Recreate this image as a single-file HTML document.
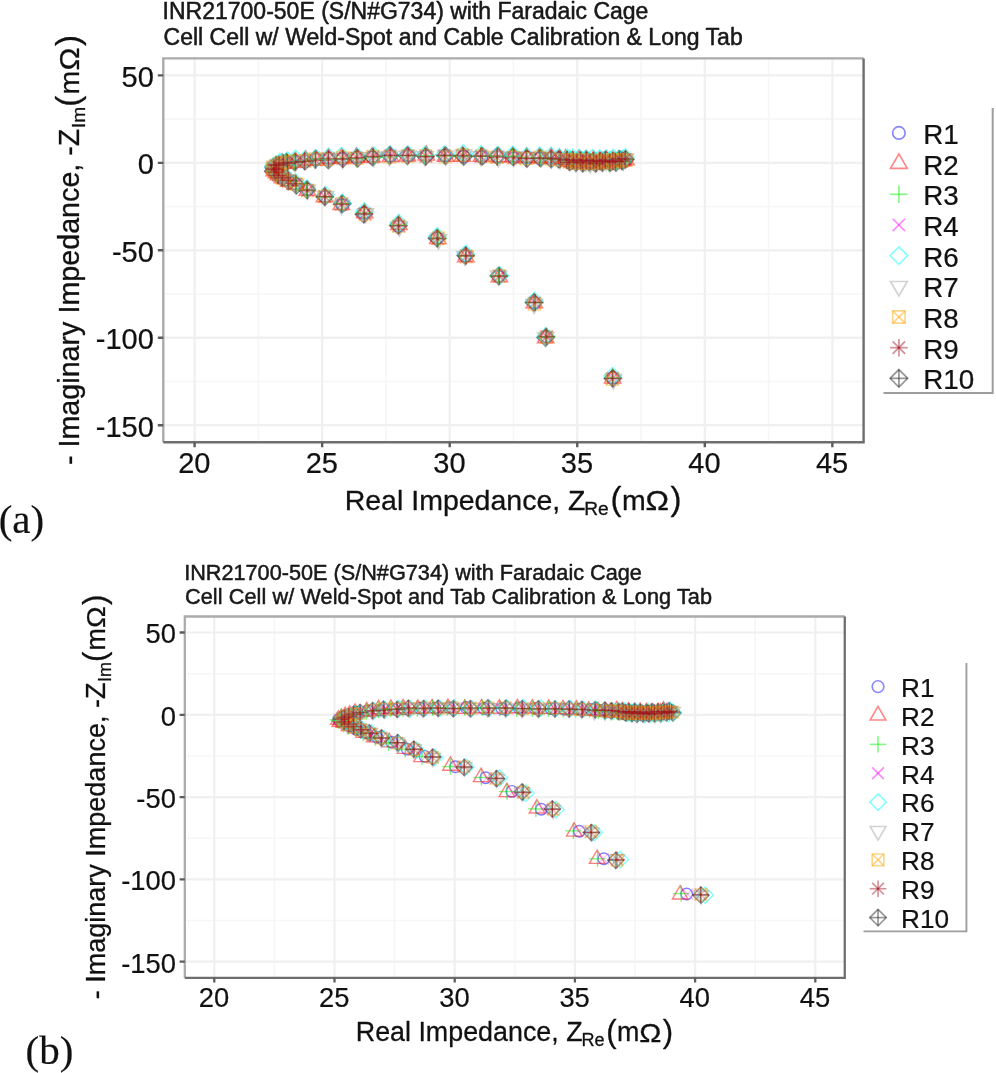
<!DOCTYPE html><html><head><meta charset="utf-8"><title>Nyquist plots</title><style>html,body{margin:0;padding:0;background:#fff;overflow:hidden}svg{display:block}text{font-family:"Liberation Sans",Arial,sans-serif;stroke:#111;stroke-width:0.4px;stroke-linejoin:round}.tk text{stroke-width:0.22px}.ax text{stroke-width:0.3px}</style></head><body>
<svg width="996" height="1073" viewBox="0 0 996 1073">
<defs><filter id="bl" x="-5%" y="-5%" width="110%" height="110%"><feGaussianBlur stdDeviation="0.6"/></filter><filter id="bl2" x="-5%" y="-5%" width="110%" height="110%"><feGaussianBlur stdDeviation="0.45"/></filter></defs>
<rect width="996" height="1073" fill="#fff"/>
<path d="M258.38 58.4V442.3M385.93 58.4V442.3M513.48 58.4V442.3M641.02 58.4V442.3M768.58 58.4V442.3M163.3 119.12H863.6M163.3 206.57H863.6M163.3 294.02H863.6M163.3 381.48H863.6" stroke="#f6f6f6" stroke-width="1.6" fill="none"/>
<path d="M194.6 58.4V442.3M322.15 58.4V442.3M449.7 58.4V442.3M577.25 58.4V442.3M704.8 58.4V442.3M832.35 58.4V442.3M163.3 75.4H863.6M163.3 162.85H863.6M163.3 250.3H863.6M163.3 337.75H863.6M163.3 425.2H863.6" stroke="#f0f0f0" stroke-width="2.3" fill="none"/>
<g filter="url(#bl)">
<g fill="none" stroke="#0000ff" stroke-opacity="0.5" stroke-width="1.45"><circle cx="612.78" cy="377.87" r="6.1"/><circle cx="546.57" cy="336.53" r="6.1"/><circle cx="534.66" cy="302.96" r="6.1"/><circle cx="498.4" cy="276.41" r="6.1"/><circle cx="465.07" cy="256.18" r="6.1"/><circle cx="437.03" cy="238.06" r="6.1"/><circle cx="398.76" cy="226.29" r="6.1"/><circle cx="364.02" cy="213.2" r="6.1"/><circle cx="342.43" cy="205.11" r="6.1"/><circle cx="325.24" cy="196.81" r="6.1"/><circle cx="307.86" cy="189.48" r="6.1"/><circle cx="296.35" cy="184.02" r="6.1"/><circle cx="287.86" cy="180.31" r="6.1"/><circle cx="282.66" cy="178.57" r="6.1"/><circle cx="278.43" cy="175.65" r="6.1"/><circle cx="276.25" cy="172.77" r="6.1"/><circle cx="274.09" cy="169.71" r="6.1"/><circle cx="272.71" cy="167.47" r="6.1"/><circle cx="276.32" cy="165.87" r="6.1"/><circle cx="278.67" cy="164.95" r="6.1"/><circle cx="282.42" cy="163.14" r="6.1"/><circle cx="287.33" cy="162.76" r="6.1"/><circle cx="294.84" cy="161.63" r="6.1"/><circle cx="304.95" cy="161.38" r="6.1"/><circle cx="316.11" cy="159.12" r="6.1"/><circle cx="328.66" cy="158.41" r="6.1"/><circle cx="342.05" cy="158.76" r="6.1"/><circle cx="356.47" cy="157.88" r="6.1"/><circle cx="372.07" cy="157.3" r="6.1"/><circle cx="390.38" cy="156.13" r="6.1"/><circle cx="408.68" cy="155.66" r="6.1"/><circle cx="426.35" cy="156.17" r="6.1"/><circle cx="444.94" cy="155.67" r="6.1"/><circle cx="463.51" cy="156.45" r="6.1"/><circle cx="481.55" cy="156.9" r="6.1"/><circle cx="497.01" cy="156.86" r="6.1"/><circle cx="513.76" cy="158.04" r="6.1"/><circle cx="527.28" cy="157.46" r="6.1"/><circle cx="539.79" cy="158.35" r="6.1"/><circle cx="549.94" cy="158.43" r="6.1"/><circle cx="558.9" cy="158.31" r="6.1"/><circle cx="565.71" cy="159.96" r="6.1"/><circle cx="569.13" cy="161.1" r="6.1"/><circle cx="572.9" cy="160.68" r="6.1"/><circle cx="575.65" cy="161.95" r="6.1"/><circle cx="579.79" cy="161.14" r="6.1"/><circle cx="583.57" cy="163.07" r="6.1"/><circle cx="585.9" cy="160.6" r="6.1"/><circle cx="589.35" cy="163.33" r="6.1"/><circle cx="593.72" cy="160.26" r="6.1"/><circle cx="595.62" cy="162.21" r="6.1"/><circle cx="599.02" cy="160.83" r="6.1"/><circle cx="602.96" cy="162.15" r="6.1"/><circle cx="605.21" cy="160.51" r="6.1"/><circle cx="609.16" cy="162.42" r="6.1"/><circle cx="613.52" cy="160.64" r="6.1"/><circle cx="616.03" cy="162.09" r="6.1"/><circle cx="619.62" cy="159.02" r="6.1"/><circle cx="623.32" cy="161.86" r="6.1"/><circle cx="626.57" cy="159.8" r="6.1"/></g>
<g fill="none" stroke="#202020" stroke-opacity="0.5" stroke-width="1.45"><path d="M612.91 369.69L621.53 378.32L612.91 386.94L604.28 378.32Z"/><path d="M604.28 378.32H621.53"/><path d="M612.91 369.69V386.94"/><path d="M545.59 328.92L554.21 337.54L545.59 346.17L536.96 337.54Z"/><path d="M536.96 337.54H554.21"/><path d="M545.59 328.92V346.17"/><path d="M533.81 293.79L542.44 302.42L533.81 311.05L525.19 302.42Z"/><path d="M525.19 302.42H542.44"/><path d="M533.81 293.79V311.05"/><path d="M498.68 267.17L507.3 275.79L498.68 284.42L490.05 275.79Z"/><path d="M490.05 275.79H507.3"/><path d="M498.68 267.17V284.42"/><path d="M465.61 246.87L474.24 255.49L465.61 264.12L456.99 255.49Z"/><path d="M456.99 255.49H474.24"/><path d="M465.61 246.87V264.12"/><path d="M436.9 229.55L445.53 238.17L436.9 246.8L428.27 238.17Z"/><path d="M428.27 238.17H445.53"/><path d="M436.9 229.55V246.8"/><path d="M398.18 216.83L406.81 225.45L398.18 234.08L389.56 225.45Z"/><path d="M389.56 225.45H406.81"/><path d="M398.18 216.83V234.08"/><path d="M363.85 205.75L372.47 214.37L363.85 223L355.22 214.37Z"/><path d="M355.22 214.37H372.47"/><path d="M363.85 205.75V223"/><path d="M342.41 195.04L351.03 203.67L342.41 212.29L333.78 203.67Z"/><path d="M333.78 203.67H351.03"/><path d="M342.41 195.04V212.29"/><path d="M324.65 188.1L333.28 196.73L324.65 205.35L316.03 196.73Z"/><path d="M316.03 196.73H333.28"/><path d="M324.65 188.1V205.35"/><path d="M306.76 180.99L315.38 189.62L306.76 198.25L298.13 189.62Z"/><path d="M298.13 189.62H315.38"/><path d="M306.76 180.99V198.25"/><path d="M296.33 176.66L304.95 185.29L296.33 193.91L287.7 185.29Z"/><path d="M287.7 185.29H304.95"/><path d="M296.33 176.66V193.91"/><path d="M288.44 172.34L297.07 180.97L288.44 189.6L279.81 180.97Z"/><path d="M279.81 180.97H297.07"/><path d="M288.44 172.34V189.6"/><path d="M282.25 168.66L290.88 177.28L282.25 185.91L273.63 177.28Z"/><path d="M273.63 177.28H290.88"/><path d="M282.25 168.66V185.91"/><path d="M278.72 166.45L287.34 175.08L278.72 183.7L270.09 175.08Z"/><path d="M270.09 175.08H287.34"/><path d="M278.72 166.45V183.7"/><path d="M276.59 163.76L285.22 172.39L276.59 181.02L267.97 172.39Z"/><path d="M267.97 172.39H285.22"/><path d="M276.59 163.76V181.02"/><path d="M273.14 162.69L281.77 171.31L273.14 179.94L264.51 171.31Z"/><path d="M264.51 171.31H281.77"/><path d="M273.14 162.69V179.94"/><path d="M273.55 158.74L282.18 167.36L273.55 175.99L264.92 167.36Z"/><path d="M264.92 167.36H282.18"/><path d="M273.55 158.74V175.99"/><path d="M276.08 156.52L284.7 165.15L276.08 173.78L267.45 165.15Z"/><path d="M267.45 165.15H284.7"/><path d="M276.08 156.52V173.78"/><path d="M279.05 157.03L287.68 165.66L279.05 174.29L270.42 165.66Z"/><path d="M270.42 165.66H287.68"/><path d="M279.05 157.03V174.29"/><path d="M283.15 155.23L291.78 163.85L283.15 172.48L274.53 163.85Z"/><path d="M274.53 163.85H291.78"/><path d="M283.15 155.23V172.48"/><path d="M286.37 153.53L295 162.16L286.37 170.79L277.74 162.16Z"/><path d="M277.74 162.16H295"/><path d="M286.37 153.53V170.79"/><path d="M294.7 153.36L303.33 161.99L294.7 170.62L286.07 161.99Z"/><path d="M286.07 161.99H303.33"/><path d="M294.7 153.36V170.62"/><path d="M304.96 152.58L313.59 161.2L304.96 169.83L296.33 161.2Z"/><path d="M296.33 161.2H313.59"/><path d="M304.96 152.58V169.83"/><path d="M315.39 150.37L324.02 159L315.39 167.63L306.77 159Z"/><path d="M306.77 159H324.02"/><path d="M315.39 150.37V167.63"/><path d="M328.36 151.35L336.99 159.97L328.36 168.6L319.73 159.97Z"/><path d="M319.73 159.97H336.99"/><path d="M328.36 151.35V168.6"/><path d="M342.83 150.22L351.46 158.85L342.83 167.48L334.21 158.85Z"/><path d="M334.21 158.85H351.46"/><path d="M342.83 150.22V167.48"/><path d="M357.67 149.71L366.3 158.33L357.67 166.96L349.05 158.33Z"/><path d="M349.05 158.33H366.3"/><path d="M357.67 149.71V166.96"/><path d="M372.41 148.41L381.03 157.03L372.41 165.66L363.78 157.03Z"/><path d="M363.78 157.03H381.03"/><path d="M372.41 148.41V165.66"/><path d="M389.64 146.53L398.27 155.15L389.64 163.78L381.01 155.15Z"/><path d="M381.01 155.15H398.27"/><path d="M389.64 146.53V163.78"/><path d="M407.15 146.98L415.78 155.6L407.15 164.23L398.52 155.6Z"/><path d="M398.52 155.6H415.78"/><path d="M407.15 146.98V164.23"/><path d="M425.57 147.72L434.19 156.35L425.57 164.97L416.94 156.35Z"/><path d="M416.94 156.35H434.19"/><path d="M425.57 147.72V164.97"/><path d="M445.62 147.03L454.25 155.66L445.62 164.28L437 155.66Z"/><path d="M437 155.66H454.25"/><path d="M445.62 147.03V164.28"/><path d="M463.69 147.9L472.31 156.53L463.69 165.16L455.06 156.53Z"/><path d="M455.06 156.53H472.31"/><path d="M463.69 147.9V165.16"/><path d="M482.42 147.73L491.05 156.36L482.42 164.98L473.79 156.36Z"/><path d="M473.79 156.36H491.05"/><path d="M482.42 147.73V164.98"/><path d="M497.3 147.38L505.92 156.01L497.3 164.64L488.67 156.01Z"/><path d="M488.67 156.01H505.92"/><path d="M497.3 147.38V164.64"/><path d="M512.95 147.99L521.58 156.62L512.95 165.24L504.33 156.62Z"/><path d="M504.33 156.62H521.58"/><path d="M512.95 147.99V165.24"/><path d="M526.92 149.94L535.55 158.57L526.92 167.2L518.3 158.57Z"/><path d="M518.3 158.57H535.55"/><path d="M526.92 149.94V167.2"/><path d="M540.61 149.39L549.24 158.01L540.61 166.64L531.99 158.01Z"/><path d="M531.99 158.01H549.24"/><path d="M540.61 149.39V166.64"/><path d="M551.08 150.41L559.7 159.04L551.08 167.67L542.45 159.04Z"/><path d="M542.45 159.04H559.7"/><path d="M551.08 150.41V167.67"/><path d="M558.75 150.66L567.38 159.29L558.75 167.92L550.13 159.29Z"/><path d="M550.13 159.29H567.38"/><path d="M558.75 150.66V167.92"/><path d="M567.24 151.36L575.86 159.98L567.24 168.61L558.61 159.98Z"/><path d="M558.61 159.98H575.86"/><path d="M567.24 151.36V168.61"/><path d="M570.25 152.89L578.88 161.51L570.25 170.14L561.62 161.51Z"/><path d="M561.62 161.51H578.88"/><path d="M570.25 152.89V170.14"/><path d="M572.52 151.9L581.15 160.53L572.52 169.16L563.89 160.53Z"/><path d="M563.89 160.53H581.15"/><path d="M572.52 151.9V169.16"/><path d="M576.1 153.96L584.73 162.58L576.1 171.21L567.47 162.58Z"/><path d="M567.47 162.58H584.73"/><path d="M576.1 153.96V171.21"/><path d="M580.55 151.63L589.18 160.26L580.55 168.89L571.92 160.26Z"/><path d="M571.92 160.26H589.18"/><path d="M580.55 151.63V168.89"/><path d="M582.82 154.59L591.45 163.22L582.82 171.85L574.2 163.22Z"/><path d="M574.2 163.22H591.45"/><path d="M582.82 154.59V171.85"/><path d="M586.7 151.53L595.33 160.16L586.7 168.78L578.08 160.16Z"/><path d="M578.08 160.16H595.33"/><path d="M586.7 151.53V168.78"/><path d="M588.93 153.39L597.56 162.01L588.93 170.64L580.3 162.01Z"/><path d="M580.3 162.01H597.56"/><path d="M588.93 153.39V170.64"/><path d="M593.63 152.82L602.26 161.44L593.63 170.07L585 161.44Z"/><path d="M585 161.44H602.26"/><path d="M593.63 152.82V170.07"/><path d="M595.56 154.66L604.19 163.28L595.56 171.91L586.94 163.28Z"/><path d="M586.94 163.28H604.19"/><path d="M595.56 154.66V171.91"/><path d="M600.36 152.52L608.99 161.14L600.36 169.77L591.74 161.14Z"/><path d="M591.74 161.14H608.99"/><path d="M600.36 152.52V169.77"/><path d="M602.53 154.04L611.16 162.67L602.53 171.29L593.9 162.67Z"/><path d="M593.9 162.67H611.16"/><path d="M602.53 154.04V171.29"/><path d="M605.44 151.16L614.06 159.78L605.44 168.41L596.81 159.78Z"/><path d="M596.81 159.78H614.06"/><path d="M605.44 151.16V168.41"/><path d="M610.25 153.94L618.87 162.57L610.25 171.19L601.62 162.57Z"/><path d="M601.62 162.57H618.87"/><path d="M610.25 153.94V171.19"/><path d="M612.75 152.46L621.37 161.08L612.75 169.71L604.12 161.08Z"/><path d="M604.12 161.08H621.37"/><path d="M612.75 152.46V169.71"/><path d="M615.88 153.92L624.51 162.54L615.88 171.17L607.25 162.54Z"/><path d="M607.25 162.54H624.51"/><path d="M615.88 153.92V171.17"/><path d="M619.89 150.68L628.51 159.3L619.89 167.93L611.26 159.3Z"/><path d="M611.26 159.3H628.51"/><path d="M619.89 150.68V167.93"/><path d="M622.15 152.35L630.78 160.98L622.15 169.61L613.53 160.98Z"/><path d="M613.53 160.98H630.78"/><path d="M622.15 152.35V169.61"/><path d="M625.43 150.79L634.06 159.42L625.43 168.05L616.81 159.42Z"/><path d="M616.81 159.42H634.06"/><path d="M625.43 150.79V168.05"/></g>
<g fill="none" stroke="#ff0000" stroke-opacity="0.5" stroke-width="1.45"><path d="M612.67 368.87L620.88 383.1L604.45 383.1Z"/><path d="M545.64 328.55L553.85 342.78L537.42 342.78Z"/><path d="M534.34 293.64L542.55 307.87L526.12 307.87Z"/><path d="M499.35 267.64L507.57 281.87L491.13 281.87Z"/><path d="M465.76 247.57L473.97 261.8L457.54 261.8Z"/><path d="M437.8 229.37L446.02 243.6L429.59 243.6Z"/><path d="M398.94 215.35L407.16 229.58L390.73 229.58Z"/><path d="M364.59 203.64L372.81 217.87L356.38 217.87Z"/><path d="M341.31 195.35L349.52 209.58L333.09 209.58Z"/><path d="M324.51 187.47L332.73 201.7L316.29 201.7Z"/><path d="M307.41 180.92L315.62 195.15L299.19 195.15Z"/><path d="M295.39 174.95L303.6 189.18L287.17 189.18Z"/><path d="M288.6 172.03L296.82 186.26L280.38 186.26Z"/><path d="M282.29 168.62L290.51 182.85L274.08 182.85Z"/><path d="M278.55 165.61L286.76 179.84L270.33 179.84Z"/><path d="M276.49 163.53L284.71 177.76L268.27 177.76Z"/><path d="M274.11 161.48L282.33 175.71L265.9 175.71Z"/><path d="M274.24 158.41L282.46 172.64L266.03 172.64Z"/><path d="M276.2 156.52L284.42 170.75L267.99 170.75Z"/><path d="M279.02 155.66L287.24 169.89L270.81 169.89Z"/><path d="M282.41 154.07L290.63 168.3L274.2 168.3Z"/><path d="M286.76 153.71L294.98 167.94L278.54 167.94Z"/><path d="M295.66 152.69L303.87 166.92L287.44 166.92Z"/><path d="M305.7 150.78L313.91 165.01L297.48 165.01Z"/><path d="M315.81 150.81L324.02 165.04L307.59 165.04Z"/><path d="M328.41 148.96L336.63 163.19L320.2 163.19Z"/><path d="M341.52 148.71L349.73 162.94L333.3 162.94Z"/><path d="M356.33 147.95L364.55 162.18L348.12 162.18Z"/><path d="M372.13 147.82L380.35 162.05L363.92 162.05Z"/><path d="M390.41 147.23L398.63 161.46L382.2 161.46Z"/><path d="M407.38 146.9L415.59 161.13L399.16 161.13Z"/><path d="M426.29 145.87L434.5 160.1L418.07 160.1Z"/><path d="M445.49 147.11L453.7 161.33L437.27 161.33Z"/><path d="M462.4 146.98L470.61 161.21L454.18 161.21Z"/><path d="M481.42 147.09L489.63 161.32L473.2 161.32Z"/><path d="M498.68 147.61L506.9 161.84L490.47 161.84Z"/><path d="M512.89 147.54L521.11 161.77L504.68 161.77Z"/><path d="M526.73 148.07L534.94 162.3L518.51 162.3Z"/><path d="M539.45 148.24L547.67 162.47L531.24 162.47Z"/><path d="M551.2 148.15L559.42 162.38L542.98 162.38Z"/><path d="M559.6 149.41L567.81 163.64L551.38 163.64Z"/><path d="M565.63 149.69L573.85 163.92L557.42 163.92Z"/><path d="M570.02 152.09L578.24 166.32L561.81 166.32Z"/><path d="M572.32 151.4L580.53 165.63L564.1 165.63Z"/><path d="M576.92 153.41L585.13 167.64L568.7 167.64Z"/><path d="M578.99 150.54L587.2 164.77L570.77 164.77Z"/><path d="M582.17 153.43L590.39 167.66L573.96 167.66Z"/><path d="M585.89 150.6L594.1 164.83L577.67 164.83Z"/><path d="M589.46 153.9L597.68 168.13L581.24 168.13Z"/><path d="M593.47 150.97L601.69 165.2L585.26 165.2Z"/><path d="M595.57 153.97L603.78 168.19L587.35 168.19Z"/><path d="M599.63 151.73L607.84 165.96L591.41 165.96Z"/><path d="M602.06 152.3L610.28 166.53L593.85 166.53Z"/><path d="M606.44 151.04L614.65 165.27L598.22 165.27Z"/><path d="M608.63 153.6L616.85 167.83L600.41 167.83Z"/><path d="M612.94 151.36L621.16 165.59L604.73 165.59Z"/><path d="M615.25 153.03L623.47 167.26L607.04 167.26Z"/><path d="M618.52 150.99L626.74 165.22L610.3 165.22Z"/><path d="M622.52 151.58L630.73 165.81L614.3 165.81Z"/><path d="M626 150.55L634.21 164.78L617.78 164.78Z"/></g>
<g fill="none" stroke="#00ee00" stroke-opacity="0.5" stroke-width="1.45"><path d="M604.06 377.83H621.31"/><path d="M612.68 369.21V386.46"/><path d="M537.72 336.83H554.98"/><path d="M546.35 328.2V345.46"/><path d="M525.27 302.59H542.52"/><path d="M533.9 293.96V311.22"/><path d="M489.76 275.86H507.02"/><path d="M498.39 267.24V284.49"/><path d="M456.93 255.95H474.19"/><path d="M465.56 247.32V264.58"/><path d="M429.64 238.42H446.89"/><path d="M438.27 229.8V247.05"/><path d="M390.27 225.12H407.53"/><path d="M398.9 216.49V233.75"/><path d="M355.8 212.83H373.05"/><path d="M364.42 204.21V221.46"/><path d="M333.12 203.43H350.38"/><path d="M341.75 194.8V212.05"/><path d="M316.89 197.09H334.15"/><path d="M325.52 188.47V205.72"/><path d="M297.81 190.25H315.07"/><path d="M306.44 181.63V198.88"/><path d="M287.86 183.69H305.11"/><path d="M296.48 175.06V192.32"/><path d="M280.45 180.88H297.7"/><path d="M289.07 172.25V189.5"/><path d="M274.36 178.6H291.62"/><path d="M282.99 169.98V187.23"/><path d="M270.18 175.51H287.43"/><path d="M278.81 166.89V184.14"/><path d="M267.71 173.87H284.96"/><path d="M276.34 165.24V182.5"/><path d="M265.09 171.1H282.34"/><path d="M273.72 162.47V179.72"/><path d="M265.25 168.24H282.5"/><path d="M273.87 159.62V176.87"/><path d="M267.2 165.73H284.46"/><path d="M275.83 157.1V174.35"/><path d="M269.57 164.13H286.82"/><path d="M278.2 155.51V172.76"/><path d="M273.1 163.93H290.35"/><path d="M281.73 155.31V172.56"/><path d="M277.73 161.79H294.99"/><path d="M286.36 153.17V170.42"/><path d="M285.93 162.11H303.18"/><path d="M294.55 153.49V170.74"/><path d="M296.94 161.01H314.19"/><path d="M305.57 152.38V169.63"/><path d="M306.68 159.04H323.93"/><path d="M315.31 150.41V167.66"/><path d="M318.8 159.03H336.05"/><path d="M327.43 150.4V167.65"/><path d="M332.96 158.2H350.21"/><path d="M341.58 149.58V166.83"/><path d="M348.05 158.73H365.3"/><path d="M356.67 150.1V167.36"/><path d="M365.12 157.08H382.38"/><path d="M373.75 148.46V165.71"/><path d="M380.81 156.84H398.07"/><path d="M389.44 148.21V165.46"/><path d="M399.03 155.74H416.28"/><path d="M407.66 147.12V164.37"/><path d="M416.48 155.79H433.73"/><path d="M425.1 147.16V164.41"/><path d="M436.13 155.75H453.38"/><path d="M444.75 147.13V164.38"/><path d="M453.74 155.66H470.99"/><path d="M462.36 147.03V164.29"/><path d="M472.08 156.18H489.34"/><path d="M480.71 147.55V164.8"/><path d="M488.43 156.32H505.69"/><path d="M497.06 147.69V164.95"/><path d="M504.05 156.29H521.3"/><path d="M512.68 147.66V164.92"/><path d="M517.72 157.37H534.97"/><path d="M526.35 148.74V166"/><path d="M531.53 158.1H548.78"/><path d="M540.15 149.48V166.73"/><path d="M542.62 158.78H559.88"/><path d="M551.25 150.16V167.41"/><path d="M551.26 159.68H568.52"/><path d="M559.89 151.06V168.31"/><path d="M557.67 159.16H574.93"/><path d="M566.3 150.54V167.79"/><path d="M562.05 160.92H579.3"/><path d="M570.67 152.29V169.55"/><path d="M564.88 160.27H582.13"/><path d="M573.5 151.64V168.89"/><path d="M566.95 162.65H584.21"/><path d="M575.58 154.02V171.27"/><path d="M571.78 160.68H589.03"/><path d="M580.41 152.05V169.3"/><path d="M574.79 162.98H592.05"/><path d="M583.42 154.35V171.61"/><path d="M577.02 160.79H594.28"/><path d="M585.65 152.17V169.42"/><path d="M580.98 163.24H598.23"/><path d="M589.61 154.62V171.87"/><path d="M584.82 161.48H602.08"/><path d="M593.45 152.85V170.11"/><path d="M587.72 163.4H604.98"/><path d="M596.35 154.78V172.03"/><path d="M591.2 161.21H608.46"/><path d="M599.83 152.58V169.83"/><path d="M593.69 161.73H610.94"/><path d="M602.31 153.11V170.36"/><path d="M596.81 160.41H614.07"/><path d="M605.44 151.78V169.03"/><path d="M600.06 162.9H617.32"/><path d="M608.69 154.27V171.53"/><path d="M604.18 160.53H621.43"/><path d="M612.81 151.9V169.16"/><path d="M607.6 162.2H624.85"/><path d="M616.23 153.57V170.83"/><path d="M610.65 158.93H627.91"/><path d="M619.28 150.3V167.56"/><path d="M614.51 161.8H631.76"/><path d="M623.14 153.17V170.43"/><path d="M617.28 159.33H634.53"/><path d="M625.91 150.7V167.96"/></g>
<g fill="none" stroke="#ff00ff" stroke-opacity="0.5" stroke-width="1.45"><path d="M607.29 371.62L619.49 383.82" stroke-opacity="0.22"/><path d="M607.29 383.82L619.49 371.62" stroke-opacity="0.22"/><path d="M540.63 330.75L552.83 342.95" stroke-opacity="0.22"/><path d="M540.63 342.95L552.83 330.75" stroke-opacity="0.22"/><path d="M527.73 296.68L539.93 308.88" stroke-opacity="0.22"/><path d="M527.73 308.88L539.93 296.68" stroke-opacity="0.22"/><path d="M493.51 269.77L505.71 281.97" stroke-opacity="0.22"/><path d="M493.51 281.97L505.71 269.77" stroke-opacity="0.22"/><path d="M460.23 251.06L472.43 263.26" stroke-opacity="0.22"/><path d="M460.23 263.26L472.43 251.06" stroke-opacity="0.22"/><path d="M431.69 232.49L443.89 244.69" stroke-opacity="0.22"/><path d="M431.69 244.69L443.89 232.49" stroke-opacity="0.22"/><path d="M392.76 219.93L404.96 232.13" stroke-opacity="0.22"/><path d="M392.76 232.13L404.96 219.93" stroke-opacity="0.22"/><path d="M359.08 207.81L371.28 220.01" stroke-opacity="0.22"/><path d="M359.08 220.01L371.28 207.81" stroke-opacity="0.22"/><path d="M336.36 197.44L348.56 209.64" stroke-opacity="0.22"/><path d="M336.36 209.64L348.56 197.44" stroke-opacity="0.22"/><path d="M318.37 190.46L330.57 202.66" stroke-opacity="0.22"/><path d="M318.37 202.66L330.57 190.46" stroke-opacity="0.22"/><path d="M301.34 183.85L313.54 196.05" stroke-opacity="0.22"/><path d="M301.34 196.05L313.54 183.85" stroke-opacity="0.22"/><path d="M289.72 177.42L301.92 189.62" stroke-opacity="0.22"/><path d="M289.72 189.62L301.92 177.42" stroke-opacity="0.22"/><path d="M281.61 174.48L293.81 186.68" stroke-opacity="0.22"/><path d="M281.61 186.68L293.81 174.48" stroke-opacity="0.22"/><path d="M277.21 172.25L289.41 184.45" stroke-opacity="0.22"/><path d="M277.21 184.45L289.41 172.25" stroke-opacity="0.22"/><path d="M273.22 169.02L285.42 181.22" stroke-opacity="0.22"/><path d="M273.22 181.22L285.42 169.02" stroke-opacity="0.22"/><path d="M269.93 166.84L282.13 179.04" stroke-opacity="0.22"/><path d="M269.93 179.04L282.13 166.84" stroke-opacity="0.22"/><path d="M267.84 163.71L280.04 175.91" stroke-opacity="0.22"/><path d="M267.84 175.91L280.04 163.71" stroke-opacity="0.22"/><path d="M268.11 161.36L280.31 173.56" stroke-opacity="0.22"/><path d="M268.11 173.56L280.31 161.36" stroke-opacity="0.22"/><path d="M270.76 160.69L282.96 172.89" stroke-opacity="0.22"/><path d="M270.76 172.89L282.96 160.69" stroke-opacity="0.22"/><path d="M272.03 158.63L284.23 170.83" stroke-opacity="0.22"/><path d="M272.03 170.83L284.23 158.63" stroke-opacity="0.22"/><path d="M276.98 158.24L289.18 170.44" stroke-opacity="0.22"/><path d="M276.98 170.44L289.18 158.24" stroke-opacity="0.22"/><path d="M280.61 155.88L292.81 168.08" stroke-opacity="0.22"/><path d="M280.61 168.08L292.81 155.88" stroke-opacity="0.22"/><path d="M288.68 156.2L300.88 168.4" stroke-opacity="0.22"/><path d="M288.68 168.4L300.88 156.2" stroke-opacity="0.22"/><path d="M298.28 154.75L310.48 166.95" stroke-opacity="0.22"/><path d="M298.28 166.95L310.48 154.75" stroke-opacity="0.22"/><path d="M308.96 153.44L321.16 165.64" stroke-opacity="0.22"/><path d="M308.96 165.64L321.16 153.44" stroke-opacity="0.22"/><path d="M322.51 152.34L334.71 164.54" stroke-opacity="0.22"/><path d="M322.51 164.54L334.71 152.34" stroke-opacity="0.22"/><path d="M336.68 152.22L348.88 164.42" stroke-opacity="0.22"/><path d="M336.68 164.42L348.88 152.22" stroke-opacity="0.22"/><path d="M351.7 152.17L363.9 164.37" stroke-opacity="0.22"/><path d="M351.7 164.37L363.9 152.17" stroke-opacity="0.22"/><path d="M366.32 151.62L378.52 163.82" stroke-opacity="0.22"/><path d="M366.32 163.82L378.52 151.62" stroke-opacity="0.22"/><path d="M383.78 149.04L395.98 161.24" stroke-opacity="0.22"/><path d="M383.78 161.24L395.98 149.04" stroke-opacity="0.22"/><path d="M401.01 149.89L413.21 162.09" stroke-opacity="0.22"/><path d="M401.01 162.09L413.21 149.89" stroke-opacity="0.22"/><path d="M419.81 149.54L432.01 161.74" stroke-opacity="0.22"/><path d="M419.81 161.74L432.01 149.54" stroke-opacity="0.22"/><path d="M438.05 149.37L450.25 161.57" stroke-opacity="0.22"/><path d="M438.05 161.57L450.25 149.37" stroke-opacity="0.22"/><path d="M456.47 150.16L468.67 162.36" stroke-opacity="0.22"/><path d="M456.47 162.36L468.67 150.16" stroke-opacity="0.22"/><path d="M474.6 150.95L486.8 163.15" stroke-opacity="0.22"/><path d="M474.6 163.15L486.8 150.95" stroke-opacity="0.22"/><path d="M492.31 149.72L504.51 161.92" stroke-opacity="0.22"/><path d="M492.31 161.92L504.51 149.72" stroke-opacity="0.22"/><path d="M508.17 151.43L520.37 163.63" stroke-opacity="0.22"/><path d="M508.17 163.63L520.37 151.43" stroke-opacity="0.22"/><path d="M521.32 151.37L533.52 163.57" stroke-opacity="0.22"/><path d="M521.32 163.57L533.52 151.37" stroke-opacity="0.22"/><path d="M533.67 151.76L545.87 163.96" stroke-opacity="0.22"/><path d="M533.67 163.96L545.87 151.76" stroke-opacity="0.22"/><path d="M545.6 152.56L557.8 164.76" stroke-opacity="0.22"/><path d="M545.6 164.76L557.8 152.56" stroke-opacity="0.22"/><path d="M553.15 152.77L565.35 164.97" stroke-opacity="0.22"/><path d="M553.15 164.97L565.35 152.77" stroke-opacity="0.22"/><path d="M560 152.56L572.2 164.76" stroke-opacity="0.22"/><path d="M560 164.76L572.2 152.56" stroke-opacity="0.22"/><path d="M562.98 156.05L575.18 168.25" stroke-opacity="0.22"/><path d="M562.98 168.25L575.18 156.05" stroke-opacity="0.22"/><path d="M566.61 154.69L578.81 166.89" stroke-opacity="0.22"/><path d="M566.61 166.89L578.81 154.69" stroke-opacity="0.22"/><path d="M569.85 155.52L582.05 167.72" stroke-opacity="0.22"/><path d="M569.85 167.72L582.05 155.52" stroke-opacity="0.22"/><path d="M573.62 153.79L585.82 165.99" stroke-opacity="0.22"/><path d="M573.62 165.99L585.82 153.79" stroke-opacity="0.22"/><path d="M576.67 157.14L588.87 169.34" stroke-opacity="0.22"/><path d="M576.67 169.34L588.87 157.14" stroke-opacity="0.22"/><path d="M580.89 155.21L593.09 167.41" stroke-opacity="0.22"/><path d="M580.89 167.41L593.09 155.21" stroke-opacity="0.22"/><path d="M583.74 157.29L595.94 169.49" stroke-opacity="0.22"/><path d="M583.74 169.49L595.94 157.29" stroke-opacity="0.22"/><path d="M587.59 154.88L599.79 167.08" stroke-opacity="0.22"/><path d="M587.59 167.08L599.79 154.88" stroke-opacity="0.22"/><path d="M590.5 155.79L602.7 167.99" stroke-opacity="0.22"/><path d="M590.5 167.99L602.7 155.79" stroke-opacity="0.22"/><path d="M593.82 154.67L606.02 166.87" stroke-opacity="0.22"/><path d="M593.82 166.87L606.02 154.67" stroke-opacity="0.22"/><path d="M597.15 156.74L609.35 168.94" stroke-opacity="0.22"/><path d="M597.15 168.94L609.35 156.74" stroke-opacity="0.22"/><path d="M599.62 153.75L611.82 165.95" stroke-opacity="0.22"/><path d="M599.62 165.95L611.82 153.75" stroke-opacity="0.22"/><path d="M604.07 155.53L616.27 167.73" stroke-opacity="0.22"/><path d="M604.07 167.73L616.27 155.53" stroke-opacity="0.22"/><path d="M606.55 153.92L618.75 166.12" stroke-opacity="0.22"/><path d="M606.55 166.12L618.75 153.92" stroke-opacity="0.22"/><path d="M609.54 156.21L621.74 168.41" stroke-opacity="0.22"/><path d="M609.54 168.41L621.74 156.21" stroke-opacity="0.22"/><path d="M614.06 153.29L626.26 165.49" stroke-opacity="0.22"/><path d="M614.06 165.49L626.26 153.29" stroke-opacity="0.22"/><path d="M616.78 154.89L628.98 167.09" stroke-opacity="0.22"/><path d="M616.78 167.09L628.98 154.89" stroke-opacity="0.22"/><path d="M619.9 152.98L632.1 165.18" stroke-opacity="0.22"/><path d="M619.9 165.18L632.1 152.98" stroke-opacity="0.22"/></g>
<g fill="none" stroke="#00ffff" stroke-opacity="0.5" stroke-width="1.45"><path d="M612.5 367.46L621.13 376.09L612.5 384.72L603.87 376.09Z"/><path d="M545.77 327.6L554.4 336.23L545.77 344.86L537.15 336.23Z"/><path d="M534.59 292.27L543.22 300.9L534.59 309.52L525.97 300.9Z"/><path d="M499.93 266.87L508.56 275.49L499.93 284.12L491.3 275.49Z"/><path d="M465.81 245.22L474.44 253.85L465.81 262.48L457.18 253.85Z"/><path d="M437.25 227.64L445.87 236.26L437.25 244.89L428.62 236.26Z"/><path d="M398.62 214.54L407.24 223.16L398.62 231.79L389.99 223.16Z"/><path d="M364.23 202.84L372.86 211.47L364.23 220.09L355.6 211.47Z"/><path d="M342.33 194.57L350.95 203.2L342.33 211.82L333.7 203.2Z"/><path d="M325.55 186.42L334.18 195.04L325.55 203.67L316.92 195.04Z"/><path d="M306.84 179.92L315.47 188.54L306.84 197.17L298.22 188.54Z"/><path d="M295.48 173.68L304.11 182.31L295.48 190.94L286.85 182.31Z"/><path d="M287.71 170.17L296.34 178.8L287.71 187.43L279.09 178.8Z"/><path d="M283.84 166.9L292.47 175.53L283.84 184.15L275.22 175.53Z"/><path d="M279.01 165.31L287.63 173.93L279.01 182.56L270.38 173.93Z"/><path d="M276.65 162.06L285.28 170.69L276.65 179.32L268.03 170.69Z"/><path d="M273.59 159.62L282.21 168.25L273.59 176.87L264.96 168.25Z"/><path d="M273.32 157.48L281.95 166.1L273.32 174.73L264.69 166.1Z"/><path d="M276.82 156.2L285.44 164.83L276.82 173.45L268.19 164.83Z"/><path d="M279.67 153.51L288.3 162.14L279.67 170.77L271.04 162.14Z"/><path d="M281.66 153.45L290.28 162.08L281.66 170.7L273.03 162.08Z"/><path d="M287.51 151.93L296.14 160.55L287.51 169.18L278.89 160.55Z"/><path d="M295.46 150.17L304.08 158.8L295.46 167.43L286.83 158.8Z"/><path d="M304.7 151.04L313.33 159.67L304.7 168.29L296.08 159.67Z"/><path d="M316.29 149.71L324.91 158.34L316.29 166.97L307.66 158.34Z"/><path d="M328.65 148.22L337.28 156.85L328.65 165.47L320.02 156.85Z"/><path d="M341.5 147.25L350.12 155.88L341.5 164.5L332.87 155.88Z"/><path d="M357.14 147.8L365.77 156.43L357.14 165.05L348.51 156.43Z"/><path d="M373.69 146.97L382.32 155.6L373.69 164.23L365.07 155.6Z"/><path d="M390.17 146.05L398.79 154.68L390.17 163.3L381.54 154.68Z"/><path d="M407.92 145.67L416.55 154.29L407.92 162.92L399.3 154.29Z"/><path d="M425.17 146.08L433.8 154.71L425.17 163.33L416.54 154.71Z"/><path d="M444.32 146.08L452.95 154.71L444.32 163.33L435.69 154.71Z"/><path d="M463.16 144.87L471.79 153.5L463.16 162.12L454.54 153.5Z"/><path d="M480.93 145.73L489.56 154.35L480.93 162.98L472.3 154.35Z"/><path d="M498.05 146.43L506.67 155.06L498.05 163.68L489.42 155.06Z"/><path d="M512.8 145.95L521.43 154.58L512.8 163.2L504.18 154.58Z"/><path d="M526.74 147.57L535.37 156.2L526.74 164.83L518.12 156.2Z"/><path d="M539.8 147.13L548.43 155.75L539.8 164.38L531.17 155.75Z"/><path d="M550.98 147.19L559.61 155.82L550.98 164.45L542.36 155.82Z"/><path d="M559.14 148.5L567.77 157.13L559.14 165.76L550.52 157.13Z"/><path d="M567.33 149.31L575.95 157.94L567.33 166.56L558.7 157.94Z"/><path d="M570.49 151.08L579.12 159.71L570.49 168.33L561.86 159.71Z"/><path d="M572.62 149.13L581.25 157.75L572.62 166.38L564 157.75Z"/><path d="M577.23 151.98L585.86 160.61L577.23 169.24L568.6 160.61Z"/><path d="M579.35 149.16L587.98 157.79L579.35 166.41L570.73 157.79Z"/><path d="M583 152.3L591.62 160.93L583 169.56L574.37 160.93Z"/><path d="M586.16 149.89L594.78 158.51L586.16 167.14L577.53 158.51Z"/><path d="M589.9 152.98L598.53 161.61L589.9 170.23L581.27 161.61Z"/><path d="M592.41 149.63L601.03 158.25L592.41 166.88L583.78 158.25Z"/><path d="M595.91 152.13L604.54 160.75L595.91 169.38L587.28 160.75Z"/><path d="M599.83 149.89L608.46 158.52L599.83 167.14L591.2 158.52Z"/><path d="M603.33 152.58L611.96 161.21L603.33 169.84L594.71 161.21Z"/><path d="M606.11 149.7L614.74 158.33L606.11 166.95L597.48 158.33Z"/><path d="M610.25 151.53L618.87 160.16L610.25 168.78L601.62 160.16Z"/><path d="M613.28 149.39L621.9 158.02L613.28 166.64L604.65 158.02Z"/><path d="M615.5 151.92L624.13 160.54L615.5 169.17L606.87 160.54Z"/><path d="M618.93 150.21L627.56 158.84L618.93 167.46L610.3 158.84Z"/><path d="M622.59 150.36L631.22 158.99L622.59 167.62L613.97 158.99Z"/><path d="M625.4 148.69L634.03 157.32L625.4 165.94L616.78 157.32Z"/></g>
<g fill="none" stroke="#a0a0a0" stroke-opacity="0.5" stroke-width="1.45"><path d="M613.4 388.79L621.61 374.56L605.18 374.56Z"/><path d="M545.66 346.59L553.88 332.36L537.45 332.36Z"/><path d="M534.08 313.54L542.3 299.31L525.87 299.31Z"/><path d="M498.56 285.08L506.77 270.85L490.34 270.85Z"/><path d="M465.11 265.59L473.32 251.36L456.89 251.36Z"/><path d="M438.52 248.98L446.73 234.75L430.3 234.75Z"/><path d="M399.32 236.08L407.53 221.85L391.1 221.85Z"/><path d="M365.48 222.88L373.69 208.65L357.26 208.65Z"/><path d="M341.63 214.57L349.85 200.34L333.42 200.34Z"/><path d="M325.54 205.64L333.76 191.41L317.33 191.41Z"/><path d="M307.3 199.57L315.51 185.34L299.08 185.34Z"/><path d="M295.47 193.58L303.69 179.35L287.26 179.35Z"/><path d="M287.9 189.59L296.12 175.36L279.69 175.36Z"/><path d="M282.6 187.22L290.82 172.99L274.39 172.99Z"/><path d="M279.82 184.31L288.04 170.08L271.6 170.08Z"/><path d="M276.84 181.96L285.05 167.73L268.62 167.73Z"/><path d="M273.74 180.56L281.96 166.34L265.53 166.34Z"/><path d="M274.08 177.36L282.3 163.14L265.86 163.14Z"/><path d="M275.19 175.44L283.4 161.21L266.97 161.21Z"/><path d="M278.77 175.04L286.99 160.81L270.56 160.81Z"/><path d="M281.95 172.74L290.16 158.51L273.73 158.51Z"/><path d="M287.51 171.04L295.73 156.81L279.3 156.81Z"/><path d="M295.14 171.55L303.35 157.32L286.92 157.32Z"/><path d="M305.38 169.36L313.6 155.13L297.16 155.13Z"/><path d="M314.86 168.2L323.08 153.97L306.65 153.97Z"/><path d="M328.56 168.15L336.77 153.92L320.34 153.92Z"/><path d="M342.65 168.5L350.86 154.27L334.43 154.27Z"/><path d="M356.81 166.98L365.03 152.75L348.59 152.75Z"/><path d="M373.72 166.7L381.94 152.47L365.51 152.47Z"/><path d="M389.47 165.88L397.69 151.65L381.26 151.65Z"/><path d="M407.67 165.08L415.89 150.85L399.45 150.85Z"/><path d="M425.11 165.95L433.32 151.72L416.89 151.72Z"/><path d="M445.55 165.48L453.77 151.25L437.33 151.25Z"/><path d="M463.7 164.28L471.91 150.05L455.48 150.05Z"/><path d="M481.12 166.04L489.34 151.81L472.91 151.81Z"/><path d="M498.62 166.8L506.84 152.57L490.41 152.57Z"/><path d="M513.3 166.19L521.51 151.96L505.08 151.96Z"/><path d="M526.57 167.32L534.79 153.09L518.36 153.09Z"/><path d="M540.77 166.97L548.99 152.74L532.56 152.74Z"/><path d="M551.34 168.42L559.56 154.19L543.13 154.19Z"/><path d="M560.08 168.98L568.3 154.75L551.87 154.75Z"/><path d="M566.69 168.65L574.91 154.42L558.48 154.42Z"/><path d="M569.48 170.79L577.69 156.56L561.26 156.56Z"/><path d="M573.61 168.74L581.82 154.51L565.39 154.51Z"/><path d="M575.86 171.98L584.07 157.75L567.64 157.75Z"/><path d="M579.25 169.15L587.46 154.92L571.03 154.92Z"/><path d="M582.16 172L590.38 157.77L573.95 157.77Z"/><path d="M585.99 171.1L594.2 156.87L577.77 156.87Z"/><path d="M590.29 173.01L598.51 158.78L582.07 158.78Z"/><path d="M592.48 169.63L600.69 155.4L584.26 155.4Z"/><path d="M595.47 172.18L603.69 157.95L587.26 157.95Z"/><path d="M599.88 170.25L608.09 156.02L591.66 156.02Z"/><path d="M602.32 171.92L610.54 157.69L594.11 157.69Z"/><path d="M606.32 170.46L614.53 156.23L598.1 156.23Z"/><path d="M609.85 172.41L618.06 158.18L601.63 158.18Z"/><path d="M613 169.11L621.21 154.88L604.78 154.88Z"/><path d="M616.61 170.99L624.83 156.76L608.4 156.76Z"/><path d="M619.42 169.08L627.64 154.85L611.2 154.85Z"/><path d="M623.03 170.3L631.24 156.07L614.81 156.07Z"/><path d="M625.45 168.29L633.66 154.06L617.23 154.06Z"/></g>
<g fill="none" stroke="#ffa500" stroke-opacity="0.35" stroke-width="1.45"><path d="M606.38 373.09h12.2v12.2h-12.2Z"/><path d="M606.38 373.09L618.58 385.29" stroke-opacity="0.22"/><path d="M606.38 385.29L618.58 373.09" stroke-opacity="0.22"/><path d="M540.34 330.89h12.2v12.2h-12.2Z"/><path d="M540.34 330.89L552.54 343.09" stroke-opacity="0.22"/><path d="M540.34 343.09L552.54 330.89" stroke-opacity="0.22"/><path d="M528.31 297.99h12.2v12.2h-12.2Z"/><path d="M528.31 297.99L540.51 310.19" stroke-opacity="0.22"/><path d="M528.31 310.19L540.51 297.99" stroke-opacity="0.22"/><path d="M493.11 269.82h12.2v12.2h-12.2Z"/><path d="M493.11 269.82L505.31 282.02" stroke-opacity="0.22"/><path d="M493.11 282.02L505.31 269.82" stroke-opacity="0.22"/><path d="M460.36 250.48h12.2v12.2h-12.2Z"/><path d="M460.36 250.48L472.56 262.68" stroke-opacity="0.22"/><path d="M460.36 262.68L472.56 250.48" stroke-opacity="0.22"/><path d="M432.58 231.98h12.2v12.2h-12.2Z"/><path d="M432.58 231.98L444.78 244.18" stroke-opacity="0.22"/><path d="M432.58 244.18L444.78 231.98" stroke-opacity="0.22"/><path d="M392.75 220.17h12.2v12.2h-12.2Z"/><path d="M392.75 220.17L404.95 232.37" stroke-opacity="0.22"/><path d="M392.75 232.37L404.95 220.17" stroke-opacity="0.22"/><path d="M359.21 208.35h12.2v12.2h-12.2Z"/><path d="M359.21 208.35L371.41 220.55" stroke-opacity="0.22"/><path d="M359.21 220.55L371.41 208.35" stroke-opacity="0.22"/><path d="M335.27 197.83h12.2v12.2h-12.2Z"/><path d="M335.27 197.83L347.47 210.03" stroke-opacity="0.22"/><path d="M335.27 210.03L347.47 197.83" stroke-opacity="0.22"/><path d="M318.31 190.34h12.2v12.2h-12.2Z"/><path d="M318.31 190.34L330.51 202.54" stroke-opacity="0.22"/><path d="M318.31 202.54L330.51 190.34" stroke-opacity="0.22"/><path d="M301.75 184.35h12.2v12.2h-12.2Z"/><path d="M301.75 184.35L313.95 196.55" stroke-opacity="0.22"/><path d="M301.75 196.55L313.95 184.35" stroke-opacity="0.22"/><path d="M290.37 178.07h12.2v12.2h-12.2Z"/><path d="M290.37 178.07L302.57 190.27" stroke-opacity="0.22"/><path d="M290.37 190.27L302.57 178.07" stroke-opacity="0.22"/><path d="M283.06 174.81h12.2v12.2h-12.2Z"/><path d="M283.06 174.81L295.26 187.01" stroke-opacity="0.22"/><path d="M283.06 187.01L295.26 174.81" stroke-opacity="0.22"/><path d="M276.47 172.4h12.2v12.2h-12.2Z"/><path d="M276.47 172.4L288.67 184.6" stroke-opacity="0.22"/><path d="M276.47 184.6L288.67 172.4" stroke-opacity="0.22"/><path d="M273.7 168.69h12.2v12.2h-12.2Z"/><path d="M273.7 168.69L285.9 180.89" stroke-opacity="0.22"/><path d="M273.7 180.89L285.9 168.69" stroke-opacity="0.22"/><path d="M270.07 167.12h12.2v12.2h-12.2Z"/><path d="M270.07 167.12L282.27 179.32" stroke-opacity="0.22"/><path d="M270.07 179.32L282.27 167.12" stroke-opacity="0.22"/><path d="M267.39 164.16h12.2v12.2h-12.2Z"/><path d="M267.39 164.16L279.59 176.36" stroke-opacity="0.22"/><path d="M267.39 176.36L279.59 164.16" stroke-opacity="0.22"/><path d="M266.75 161.37h12.2v12.2h-12.2Z"/><path d="M266.75 161.37L278.95 173.57" stroke-opacity="0.22"/><path d="M266.75 173.57L278.95 161.37" stroke-opacity="0.22"/><path d="M269.46 160.08h12.2v12.2h-12.2Z"/><path d="M269.46 160.08L281.66 172.28" stroke-opacity="0.22"/><path d="M269.46 172.28L281.66 160.08" stroke-opacity="0.22"/><path d="M273.17 158.17h12.2v12.2h-12.2Z"/><path d="M273.17 158.17L285.37 170.37" stroke-opacity="0.22"/><path d="M273.17 170.37L285.37 158.17" stroke-opacity="0.22"/><path d="M275.52 157.09h12.2v12.2h-12.2Z"/><path d="M275.52 157.09L287.72 169.29" stroke-opacity="0.22"/><path d="M275.52 169.29L287.72 157.09" stroke-opacity="0.22"/><path d="M281.02 155.73h12.2v12.2h-12.2Z"/><path d="M281.02 155.73L293.22 167.93" stroke-opacity="0.22"/><path d="M281.02 167.93L293.22 155.73" stroke-opacity="0.22"/><path d="M288.86 154.87h12.2v12.2h-12.2Z"/><path d="M288.86 154.87L301.06 167.07" stroke-opacity="0.22"/><path d="M288.86 167.07L301.06 154.87" stroke-opacity="0.22"/><path d="M299.33 154.69h12.2v12.2h-12.2Z"/><path d="M299.33 154.69L311.53 166.89" stroke-opacity="0.22"/><path d="M299.33 166.89L311.53 154.69" stroke-opacity="0.22"/><path d="M308.81 152.68h12.2v12.2h-12.2Z"/><path d="M308.81 152.68L321.01 164.88" stroke-opacity="0.22"/><path d="M308.81 164.88L321.01 152.68" stroke-opacity="0.22"/><path d="M321.51 153.09h12.2v12.2h-12.2Z"/><path d="M321.51 153.09L333.71 165.29" stroke-opacity="0.22"/><path d="M321.51 165.29L333.71 153.09" stroke-opacity="0.22"/><path d="M336.35 151.46h12.2v12.2h-12.2Z"/><path d="M336.35 151.46L348.55 163.66" stroke-opacity="0.22"/><path d="M336.35 163.66L348.55 151.46" stroke-opacity="0.22"/><path d="M350.39 152.15h12.2v12.2h-12.2Z"/><path d="M350.39 152.15L362.59 164.35" stroke-opacity="0.22"/><path d="M350.39 164.35L362.59 152.15" stroke-opacity="0.22"/><path d="M366.64 150.51h12.2v12.2h-12.2Z"/><path d="M366.64 150.51L378.84 162.71" stroke-opacity="0.22"/><path d="M366.64 162.71L378.84 150.51" stroke-opacity="0.22"/><path d="M383.45 150.72h12.2v12.2h-12.2Z"/><path d="M383.45 150.72L395.65 162.92" stroke-opacity="0.22"/><path d="M383.45 162.92L395.65 150.72" stroke-opacity="0.22"/><path d="M401.56 150.02h12.2v12.2h-12.2Z"/><path d="M401.56 150.02L413.76 162.22" stroke-opacity="0.22"/><path d="M401.56 162.22L413.76 150.02" stroke-opacity="0.22"/><path d="M419.64 149.75h12.2v12.2h-12.2Z"/><path d="M419.64 149.75L431.84 161.95" stroke-opacity="0.22"/><path d="M419.64 161.95L431.84 149.75" stroke-opacity="0.22"/><path d="M439.36 150.54h12.2v12.2h-12.2Z"/><path d="M439.36 150.54L451.56 162.74" stroke-opacity="0.22"/><path d="M439.36 162.74L451.56 150.54" stroke-opacity="0.22"/><path d="M456.55 149h12.2v12.2h-12.2Z"/><path d="M456.55 149L468.75 161.2" stroke-opacity="0.22"/><path d="M456.55 161.2L468.75 149" stroke-opacity="0.22"/><path d="M475.91 149.97h12.2v12.2h-12.2Z"/><path d="M475.91 149.97L488.11 162.17" stroke-opacity="0.22"/><path d="M475.91 162.17L488.11 149.97" stroke-opacity="0.22"/><path d="M490.81 151.12h12.2v12.2h-12.2Z"/><path d="M490.81 151.12L503.01 163.32" stroke-opacity="0.22"/><path d="M490.81 163.32L503.01 151.12" stroke-opacity="0.22"/><path d="M507.26 151.63h12.2v12.2h-12.2Z"/><path d="M507.26 151.63L519.46 163.83" stroke-opacity="0.22"/><path d="M507.26 163.83L519.46 151.63" stroke-opacity="0.22"/><path d="M520.43 152.44h12.2v12.2h-12.2Z"/><path d="M520.43 152.44L532.63 164.64" stroke-opacity="0.22"/><path d="M520.43 164.64L532.63 152.44" stroke-opacity="0.22"/><path d="M533.83 151.34h12.2v12.2h-12.2Z"/><path d="M533.83 151.34L546.03 163.54" stroke-opacity="0.22"/><path d="M533.83 163.54L546.03 151.34" stroke-opacity="0.22"/><path d="M543.83 152.49h12.2v12.2h-12.2Z"/><path d="M543.83 152.49L556.03 164.69" stroke-opacity="0.22"/><path d="M543.83 164.69L556.03 152.49" stroke-opacity="0.22"/><path d="M553.65 153.64h12.2v12.2h-12.2Z"/><path d="M553.65 153.64L565.85 165.84" stroke-opacity="0.22"/><path d="M553.65 165.84L565.85 153.64" stroke-opacity="0.22"/><path d="M559.66 153.6h12.2v12.2h-12.2Z"/><path d="M559.66 153.6L571.86 165.8" stroke-opacity="0.22"/><path d="M559.66 165.8L571.86 153.6" stroke-opacity="0.22"/><path d="M563.47 155.46h12.2v12.2h-12.2Z"/><path d="M563.47 155.46L575.67 167.66" stroke-opacity="0.22"/><path d="M563.47 167.66L575.67 155.46" stroke-opacity="0.22"/><path d="M566.36 153.52h12.2v12.2h-12.2Z"/><path d="M566.36 153.52L578.56 165.72" stroke-opacity="0.22"/><path d="M566.36 165.72L578.56 153.52" stroke-opacity="0.22"/><path d="M570.34 156.71h12.2v12.2h-12.2Z"/><path d="M570.34 156.71L582.54 168.91" stroke-opacity="0.22"/><path d="M570.34 168.91L582.54 156.71" stroke-opacity="0.22"/><path d="M572.9 154.33h12.2v12.2h-12.2Z"/><path d="M572.9 154.33L585.1 166.53" stroke-opacity="0.22"/><path d="M572.9 166.53L585.1 154.33" stroke-opacity="0.22"/><path d="M577.45 157.16h12.2v12.2h-12.2Z"/><path d="M577.45 157.16L589.65 169.36" stroke-opacity="0.22"/><path d="M577.45 169.36L589.65 157.16" stroke-opacity="0.22"/><path d="M579.66 153.98h12.2v12.2h-12.2Z"/><path d="M579.66 153.98L591.86 166.18" stroke-opacity="0.22"/><path d="M579.66 166.18L591.86 153.98" stroke-opacity="0.22"/><path d="M584.3 157.4h12.2v12.2h-12.2Z"/><path d="M584.3 157.4L596.5 169.6" stroke-opacity="0.22"/><path d="M584.3 169.6L596.5 157.4" stroke-opacity="0.22"/><path d="M586.77 153.99h12.2v12.2h-12.2Z"/><path d="M586.77 153.99L598.97 166.19" stroke-opacity="0.22"/><path d="M586.77 166.19L598.97 153.99" stroke-opacity="0.22"/><path d="M590.87 156.4h12.2v12.2h-12.2Z"/><path d="M590.87 156.4L603.07 168.6" stroke-opacity="0.22"/><path d="M590.87 168.6L603.07 156.4" stroke-opacity="0.22"/><path d="M594.13 154.98h12.2v12.2h-12.2Z"/><path d="M594.13 154.98L606.33 167.18" stroke-opacity="0.22"/><path d="M594.13 167.18L606.33 154.98" stroke-opacity="0.22"/><path d="M597.28 155.87h12.2v12.2h-12.2Z"/><path d="M597.28 155.87L609.48 168.07" stroke-opacity="0.22"/><path d="M597.28 168.07L609.48 155.87" stroke-opacity="0.22"/><path d="M600.51 154.06h12.2v12.2h-12.2Z"/><path d="M600.51 154.06L612.71 166.26" stroke-opacity="0.22"/><path d="M600.51 166.26L612.71 154.06" stroke-opacity="0.22"/><path d="M603.13 156.82h12.2v12.2h-12.2Z"/><path d="M603.13 156.82L615.33 169.02" stroke-opacity="0.22"/><path d="M603.13 169.02L615.33 156.82" stroke-opacity="0.22"/><path d="M607.19 153.63h12.2v12.2h-12.2Z"/><path d="M607.19 153.63L619.39 165.83" stroke-opacity="0.22"/><path d="M607.19 165.83L619.39 153.63" stroke-opacity="0.22"/><path d="M609.39 155.6h12.2v12.2h-12.2Z"/><path d="M609.39 155.6L621.59 167.8" stroke-opacity="0.22"/><path d="M609.39 167.8L621.59 155.6" stroke-opacity="0.22"/><path d="M613.23 153.51h12.2v12.2h-12.2Z"/><path d="M613.23 153.51L625.43 165.71" stroke-opacity="0.22"/><path d="M613.23 165.71L625.43 153.51" stroke-opacity="0.22"/><path d="M615.82 154.8h12.2v12.2h-12.2Z"/><path d="M615.82 154.8L628.02 167" stroke-opacity="0.22"/><path d="M615.82 167L628.02 154.8" stroke-opacity="0.22"/><path d="M620.2 153.88h12.2v12.2h-12.2Z"/><path d="M620.2 153.88L632.4 166.08" stroke-opacity="0.22"/><path d="M620.2 166.08L632.4 153.88" stroke-opacity="0.22"/></g>
<g fill="none" stroke="#a01020" stroke-opacity="0.5" stroke-width="1.45"><path d="M606.17 372.51L618.37 384.71" stroke-opacity="0.22"/><path d="M606.17 384.71L618.37 372.51" stroke-opacity="0.22"/><path d="M603.65 378.61H620.9"/><path d="M612.27 369.99V387.24"/><path d="M540.66 330.37L552.86 342.57" stroke-opacity="0.22"/><path d="M540.66 342.57L552.86 330.37" stroke-opacity="0.22"/><path d="M538.14 336.47H555.39"/><path d="M546.76 327.84V345.1"/><path d="M529.11 296.41L541.31 308.61" stroke-opacity="0.22"/><path d="M529.11 308.61L541.31 296.41" stroke-opacity="0.22"/><path d="M526.58 302.51H543.84"/><path d="M535.21 293.89V311.14"/><path d="M493.28 270.39L505.48 282.59" stroke-opacity="0.22"/><path d="M493.28 282.59L505.48 270.39" stroke-opacity="0.22"/><path d="M490.75 276.49H508.01"/><path d="M499.38 267.86V285.12"/><path d="M460.03 249.85L472.23 262.05" stroke-opacity="0.22"/><path d="M460.03 262.05L472.23 249.85" stroke-opacity="0.22"/><path d="M457.5 255.95H474.76"/><path d="M466.13 247.32V264.58"/><path d="M431.56 232.85L443.76 245.05" stroke-opacity="0.22"/><path d="M431.56 245.05L443.76 232.85" stroke-opacity="0.22"/><path d="M429.03 238.95H446.28"/><path d="M437.66 230.32V247.58"/><path d="M392.67 219.89L404.87 232.09" stroke-opacity="0.22"/><path d="M392.67 232.09L404.87 219.89" stroke-opacity="0.22"/><path d="M390.14 225.99H407.39"/><path d="M398.77 217.36V234.61"/><path d="M358.5 207.49L370.7 219.69" stroke-opacity="0.22"/><path d="M358.5 219.69L370.7 207.49" stroke-opacity="0.22"/><path d="M355.98 213.59H373.23"/><path d="M364.6 204.96V222.22"/><path d="M335.24 198.41L347.44 210.61" stroke-opacity="0.22"/><path d="M335.24 210.61L347.44 198.41" stroke-opacity="0.22"/><path d="M332.72 204.51H349.97"/><path d="M341.34 195.89V213.14"/><path d="M318.98 190.42L331.18 202.62" stroke-opacity="0.22"/><path d="M318.98 202.62L331.18 190.42" stroke-opacity="0.22"/><path d="M316.45 196.52H333.71"/><path d="M325.08 187.9V205.15"/><path d="M301.37 184.7L313.57 196.9" stroke-opacity="0.22"/><path d="M301.37 196.9L313.57 184.7" stroke-opacity="0.22"/><path d="M298.85 190.8H316.1"/><path d="M307.47 182.18V199.43"/><path d="M289.52 177.72L301.72 189.92" stroke-opacity="0.22"/><path d="M289.52 189.92L301.72 177.72" stroke-opacity="0.22"/><path d="M287 183.82H304.25"/><path d="M295.62 175.2V192.45"/><path d="M282.35 174.19L294.55 186.39" stroke-opacity="0.22"/><path d="M282.35 186.39L294.55 174.19" stroke-opacity="0.22"/><path d="M279.83 180.29H297.08"/><path d="M288.45 171.67V188.92"/><path d="M276.23 171.78L288.43 183.98" stroke-opacity="0.22"/><path d="M276.23 183.98L288.43 171.78" stroke-opacity="0.22"/><path d="M273.7 177.88H290.96"/><path d="M282.33 169.25V186.5"/><path d="M272.17 169.3L284.37 181.5" stroke-opacity="0.22"/><path d="M272.17 181.5L284.37 169.3" stroke-opacity="0.22"/><path d="M269.64 175.4H286.89"/><path d="M278.27 166.77V184.02"/><path d="M269.92 166.07L282.12 178.27" stroke-opacity="0.22"/><path d="M269.92 178.27L282.12 166.07" stroke-opacity="0.22"/><path d="M267.39 172.17H284.64"/><path d="M276.02 163.55V180.8"/><path d="M268.15 163.65L280.35 175.85" stroke-opacity="0.22"/><path d="M268.15 175.85L280.35 163.65" stroke-opacity="0.22"/><path d="M265.62 169.75H282.87"/><path d="M274.25 161.12V178.37"/><path d="M267.82 162.4L280.02 174.6" stroke-opacity="0.22"/><path d="M267.82 174.6L280.02 162.4" stroke-opacity="0.22"/><path d="M265.29 168.5H282.55"/><path d="M273.92 159.87V177.13"/><path d="M269.92 159.1L282.12 171.3" stroke-opacity="0.22"/><path d="M269.92 171.3L282.12 159.1" stroke-opacity="0.22"/><path d="M267.39 165.2H284.65"/><path d="M276.02 156.57V173.82"/><path d="M272.91 158.48L285.11 170.68" stroke-opacity="0.22"/><path d="M272.91 170.68L285.11 158.48" stroke-opacity="0.22"/><path d="M270.38 164.58H287.63"/><path d="M279.01 155.95V173.21"/><path d="M277.21 156.75L289.41 168.95" stroke-opacity="0.22"/><path d="M277.21 168.95L289.41 156.75" stroke-opacity="0.22"/><path d="M274.68 162.85H291.94"/><path d="M283.31 154.22V171.47"/><path d="M281.34 157.19L293.54 169.39" stroke-opacity="0.22"/><path d="M281.34 169.39L293.54 157.19" stroke-opacity="0.22"/><path d="M278.82 163.29H296.07"/><path d="M287.44 154.67V171.92"/><path d="M289.62 155.97L301.82 168.17" stroke-opacity="0.22"/><path d="M289.62 168.17L301.82 155.97" stroke-opacity="0.22"/><path d="M287.09 162.07H304.34"/><path d="M295.72 153.44V170.69"/><path d="M298.25 155.47L310.45 167.67" stroke-opacity="0.22"/><path d="M298.25 167.67L310.45 155.47" stroke-opacity="0.22"/><path d="M295.72 161.57H312.98"/><path d="M304.35 152.94V170.19"/><path d="M309.59 154.22L321.79 166.42" stroke-opacity="0.22"/><path d="M309.59 166.42L321.79 154.22" stroke-opacity="0.22"/><path d="M307.06 160.32H324.31"/><path d="M315.69 151.7V168.95"/><path d="M322.45 152.4L334.65 164.6" stroke-opacity="0.22"/><path d="M322.45 164.6L334.65 152.4" stroke-opacity="0.22"/><path d="M319.92 158.5H337.18"/><path d="M328.55 149.87V167.12"/><path d="M336.62 152.98L348.82 165.18" stroke-opacity="0.22"/><path d="M336.62 165.18L348.82 152.98" stroke-opacity="0.22"/><path d="M334.09 159.08H351.35"/><path d="M342.72 150.45V167.7"/><path d="M350.22 151.53L362.42 163.73" stroke-opacity="0.22"/><path d="M350.22 163.73L362.42 151.53" stroke-opacity="0.22"/><path d="M347.69 157.63H364.94"/><path d="M356.32 149V166.26"/><path d="M367.26 150.29L379.46 162.49" stroke-opacity="0.22"/><path d="M367.26 162.49L379.46 150.29" stroke-opacity="0.22"/><path d="M364.73 156.39H381.99"/><path d="M373.36 147.76V165.01"/><path d="M384.51 149.49L396.71 161.69" stroke-opacity="0.22"/><path d="M384.51 161.69L396.71 149.49" stroke-opacity="0.22"/><path d="M381.99 155.59H399.24"/><path d="M390.61 146.97V164.22"/><path d="M402.47 149.26L414.67 161.46" stroke-opacity="0.22"/><path d="M402.47 161.46L414.67 149.26" stroke-opacity="0.22"/><path d="M399.94 155.36H417.19"/><path d="M408.57 146.73V163.99"/><path d="M419.9 150.66L432.1 162.86" stroke-opacity="0.22"/><path d="M419.9 162.86L432.1 150.66" stroke-opacity="0.22"/><path d="M417.38 156.76H434.63"/><path d="M426 148.13V165.38"/><path d="M438.17 149.22L450.37 161.42" stroke-opacity="0.22"/><path d="M438.17 161.42L450.37 149.22" stroke-opacity="0.22"/><path d="M435.65 155.32H452.9"/><path d="M444.27 146.7V163.95"/><path d="M456.81 149.22L469.01 161.42" stroke-opacity="0.22"/><path d="M456.81 161.42L469.01 149.22" stroke-opacity="0.22"/><path d="M454.28 155.32H471.54"/><path d="M462.91 146.7V163.95"/><path d="M474.67 149.93L486.87 162.13" stroke-opacity="0.22"/><path d="M474.67 162.13L486.87 149.93" stroke-opacity="0.22"/><path d="M472.14 156.03H489.39"/><path d="M480.77 147.4V164.65"/><path d="M491.09 151.19L503.29 163.39" stroke-opacity="0.22"/><path d="M491.09 163.39L503.29 151.19" stroke-opacity="0.22"/><path d="M488.56 157.29H505.82"/><path d="M497.19 148.66V165.91"/><path d="M507.72 151.76L519.92 163.96" stroke-opacity="0.22"/><path d="M507.72 163.96L519.92 151.76" stroke-opacity="0.22"/><path d="M505.2 157.86H522.45"/><path d="M513.82 149.24V166.49"/><path d="M520 152.26L532.2 164.46" stroke-opacity="0.22"/><path d="M520 164.46L532.2 152.26" stroke-opacity="0.22"/><path d="M517.48 158.36H534.73"/><path d="M526.1 149.74V166.99"/><path d="M533.21 152.01L545.41 164.21" stroke-opacity="0.22"/><path d="M533.21 164.21L545.41 152.01" stroke-opacity="0.22"/><path d="M530.68 158.11H547.93"/><path d="M539.31 149.48V166.73"/><path d="M544.95 152.15L557.15 164.35" stroke-opacity="0.22"/><path d="M544.95 164.35L557.15 152.15" stroke-opacity="0.22"/><path d="M542.42 158.25H559.67"/><path d="M551.05 149.62V166.87"/><path d="M554.07 153L566.27 165.2" stroke-opacity="0.22"/><path d="M554.07 165.2L566.27 153" stroke-opacity="0.22"/><path d="M551.54 159.1H568.8"/><path d="M560.17 150.47V167.73"/><path d="M560.54 154.06L572.74 166.26" stroke-opacity="0.22"/><path d="M560.54 166.26L572.74 154.06" stroke-opacity="0.22"/><path d="M558.02 160.16H575.27"/><path d="M566.64 151.54V168.79"/><path d="M562.99 156.34L575.19 168.54" stroke-opacity="0.22"/><path d="M562.99 168.54L575.19 156.34" stroke-opacity="0.22"/><path d="M560.46 162.44H577.71"/><path d="M569.09 153.81V171.07"/><path d="M567.23 153.72L579.43 165.92" stroke-opacity="0.22"/><path d="M567.23 165.92L579.43 153.72" stroke-opacity="0.22"/><path d="M564.71 159.82H581.96"/><path d="M573.33 151.19V168.45"/><path d="M570.84 155.52L583.04 167.72" stroke-opacity="0.22"/><path d="M570.84 167.72L583.04 155.52" stroke-opacity="0.22"/><path d="M568.31 161.62H585.56"/><path d="M576.94 152.99V170.25"/><path d="M574.48 154.49L586.68 166.69" stroke-opacity="0.22"/><path d="M574.48 166.69L586.68 154.49" stroke-opacity="0.22"/><path d="M571.96 160.59H589.21"/><path d="M580.58 151.96V169.21"/><path d="M576.65 156.79L588.85 168.99" stroke-opacity="0.22"/><path d="M576.65 168.99L588.85 156.79" stroke-opacity="0.22"/><path d="M574.12 162.89H591.38"/><path d="M582.75 154.27V171.52"/><path d="M580.1 154.07L592.3 166.27" stroke-opacity="0.22"/><path d="M580.1 166.27L592.3 154.07" stroke-opacity="0.22"/><path d="M577.57 160.17H594.82"/><path d="M586.2 151.54V168.79"/><path d="M583.94 155.73L596.14 167.93" stroke-opacity="0.22"/><path d="M583.94 167.93L596.14 155.73" stroke-opacity="0.22"/><path d="M581.41 161.83H598.67"/><path d="M590.04 153.2V170.46"/><path d="M587.38 154.35L599.58 166.55" stroke-opacity="0.22"/><path d="M587.38 166.55L599.58 154.35" stroke-opacity="0.22"/><path d="M584.85 160.45H602.1"/><path d="M593.48 151.82V169.07"/><path d="M590.35 157.47L602.55 169.67" stroke-opacity="0.22"/><path d="M590.35 169.67L602.55 157.47" stroke-opacity="0.22"/><path d="M587.82 163.57H605.08"/><path d="M596.45 154.94V172.2"/><path d="M593.55 155.05L605.75 167.25" stroke-opacity="0.22"/><path d="M593.55 167.25L605.75 155.05" stroke-opacity="0.22"/><path d="M591.03 161.15H608.28"/><path d="M599.65 152.53V169.78"/><path d="M596.36 155.58L608.56 167.78" stroke-opacity="0.22"/><path d="M596.36 167.78L608.56 155.58" stroke-opacity="0.22"/><path d="M593.84 161.68H611.09"/><path d="M602.46 153.06V170.31"/><path d="M599.16 153.93L611.36 166.13" stroke-opacity="0.22"/><path d="M599.16 166.13L611.36 153.93" stroke-opacity="0.22"/><path d="M596.63 160.03H613.89"/><path d="M605.26 151.4V168.65"/><path d="M603.51 156.07L615.71 168.27" stroke-opacity="0.22"/><path d="M603.51 168.27L615.71 156.07" stroke-opacity="0.22"/><path d="M600.98 162.17H618.24"/><path d="M609.61 153.55V170.8"/><path d="M606.62 154.91L618.82 167.11" stroke-opacity="0.22"/><path d="M606.62 167.11L618.82 154.91" stroke-opacity="0.22"/><path d="M604.1 161.01H621.35"/><path d="M612.72 152.39V169.64"/><path d="M609.24 155.28L621.44 167.48" stroke-opacity="0.22"/><path d="M609.24 167.48L621.44 155.28" stroke-opacity="0.22"/><path d="M606.71 161.38H623.96"/><path d="M615.34 152.76V170.01"/><path d="M613.48 152.86L625.68 165.06" stroke-opacity="0.22"/><path d="M613.48 165.06L625.68 152.86" stroke-opacity="0.22"/><path d="M610.95 158.96H628.2"/><path d="M619.58 150.34V167.59"/><path d="M615.6 154.99L627.8 167.19" stroke-opacity="0.22"/><path d="M615.6 167.19L627.8 154.99" stroke-opacity="0.22"/><path d="M613.08 161.09H630.33"/><path d="M621.7 152.46V169.72"/><path d="M619.09 152.91L631.29 165.11" stroke-opacity="0.22"/><path d="M619.09 165.11L631.29 152.91" stroke-opacity="0.22"/><path d="M616.56 159.01H633.82"/><path d="M625.19 150.38V167.64"/></g>
</g>
<path d="M163.3 442.3V58.4H863.6" fill="none" stroke="#ababab" stroke-width="2.4"/>
<path d="M163.3 442.3H863.6V58.4" fill="none" stroke="#6e6e6e" stroke-width="2.4"/>
<path d="M194.6 442.3V447.3M322.15 442.3V447.3M449.7 442.3V447.3M577.25 442.3V447.3M704.8 442.3V447.3M832.35 442.3V447.3M157.8 75.4H163.3M157.8 162.85H163.3M157.8 250.3H163.3M157.8 337.75H163.3M157.8 425.2H163.3" stroke="#5c5c5c" stroke-width="2.4" fill="none"/>
<g class="tk" font-size="29" fill="#111"><text x="194.3" y="472.9" text-anchor="middle">20</text><text x="321.85" y="472.9" text-anchor="middle">25</text><text x="449.4" y="472.9" text-anchor="middle">30</text><text x="576.95" y="472.9" text-anchor="middle">35</text><text x="704.5" y="472.9" text-anchor="middle">40</text><text x="832.05" y="472.9" text-anchor="middle">45</text><text x="153.8" y="87" text-anchor="end">50</text><text x="153.8" y="174.45" text-anchor="end">0</text><text x="153.8" y="261.9" text-anchor="end">-50</text><text x="153.8" y="349.35" text-anchor="end">-100</text><text x="153.8" y="436.8" text-anchor="end">-150</text></g>
<g font-size="23" fill="#1a1a1a" style="stroke-width:0.5px">
<text x="162.6" y="19.3" style="stroke-width:0.5px">INR21700-50E (S/N#G734) with Faradaic Cage</text>
<text x="163.5" y="44.8" style="stroke-width:0.5px" textLength="579.2" lengthAdjust="spacing">Cell Cell w/ Weld-Spot and Cable Calibration &amp; Long Tab</text>
</g>
<g class="ax" fill="#111">
<text x="344.7" y="510" font-size="28.5">Real Impedance, Z</text>
<text x="584.2" y="515.3" font-size="19.2">Re</text>
<text x="610.6" y="510.1" font-size="33">(</text>
<text x="621.9" y="510" font-size="28.5">m</text>
<text transform="translate(645.5 510.1) scale(1.12 1)" font-size="28.1">&#937;</text>
<text x="670.4" y="510.1" font-size="33">)</text>
<g transform="translate(78.6 463.9) rotate(-90)">
<text x="-1.15" y="0" font-size="28.7">- Imaginary Impedance, -Z</text>
<text x="335.9" y="5.9" font-size="19.2">Im</text>
<text x="357.1" y="0" font-size="33">(</text>
<text x="369.4" y="0" font-size="28.5">m</text>
<text transform="translate(393.3 0) scale(1.1 1)" font-size="28.1">&#937;</text>
<text x="417.8" y="0" font-size="33">)</text>
</g>
</g>
<g filter="url(#bl2)">
<g fill="none" stroke="#0000ff" stroke-opacity="0.47" stroke-width="1.7"><circle cx="898.9" cy="132.9" r="6.2"/></g>
<g fill="none" stroke="#ff0000" stroke-opacity="0.47" stroke-width="1.7"><path d="M898.9 153.94L907.25 168.4L890.55 168.4Z"/></g>
<g fill="none" stroke="#00ee00" stroke-opacity="0.47" stroke-width="1.7"><path d="M890.13 194.26H907.67"/><path d="M898.9 185.49V203.03"/></g>
<g fill="none" stroke="#ff00ff" stroke-opacity="0.47" stroke-width="1.7"><path d="M892.7 218.74L905.1 231.14"/><path d="M892.7 231.14L905.1 218.74"/></g>
<g fill="none" stroke="#00ffff" stroke-opacity="0.47" stroke-width="1.7"><path d="M898.9 246.85L907.67 255.62L898.9 264.39L890.13 255.62Z"/></g>
<g fill="none" stroke="#a0a0a0" stroke-opacity="0.47" stroke-width="1.7"><path d="M898.9 295.94L907.25 281.48L890.55 281.48Z"/></g>
<g fill="none" stroke="#ffa500" stroke-opacity="0.47" stroke-width="1.7"><path d="M892.7 310.78h12.4v12.4h-12.4Z"/><path d="M892.7 310.78L905.1 323.18"/><path d="M892.7 323.18L905.1 310.78"/></g>
<g fill="none" stroke="#a01020" stroke-opacity="0.47" stroke-width="1.7"><path d="M892.7 341.46L905.1 353.86"/><path d="M892.7 353.86L905.1 341.46"/><path d="M890.13 347.66H907.67"/><path d="M898.9 338.89V356.43"/></g>
<g fill="none" stroke="#202020" stroke-opacity="0.47" stroke-width="1.7"><path d="M898.9 369.57L907.67 378.34L898.9 387.11L890.13 378.34Z"/><path d="M890.13 378.34H907.67"/><path d="M898.9 369.57V387.11"/></g>
</g>
<g class="tk" font-size="27.8" fill="#111"><text x="923.3" y="143.9">R1</text><text x="923.3" y="174.58">R2</text><text x="923.3" y="205.26">R3</text><text x="923.3" y="235.94">R4</text><text x="923.3" y="266.62">R6</text><text x="923.3" y="297.3">R7</text><text x="923.3" y="327.98">R8</text><text x="923.3" y="358.66">R9</text><text x="923.3" y="389.34">R10</text></g>
<path d="M883.5 393H992.7V107.9" fill="none" stroke="#9d9d9d" stroke-width="2"/>
<g transform="translate(30.91 561.54) scale(0.9424 0.9411)">
<path d="M258.38 58.4V442.3M385.93 58.4V442.3M513.48 58.4V442.3M641.02 58.4V442.3M768.58 58.4V442.3M163.3 119.12H863.6M163.3 206.57H863.6M163.3 294.02H863.6M163.3 381.48H863.6" stroke="#f6f6f6" stroke-width="1.6" fill="none"/>
<path d="M194.6 58.4V442.3M322.15 58.4V442.3M449.7 58.4V442.3M577.25 58.4V442.3M704.8 58.4V442.3M832.35 58.4V442.3M163.3 75.4H863.6M163.3 162.85H863.6M163.3 250.3H863.6M163.3 337.75H863.6M163.3 425.2H863.6" stroke="#f0f0f0" stroke-width="2.3" fill="none"/>
</g>
<g filter="url(#bl)">
<g fill="none" stroke="#0000ff" stroke-opacity="0.5" stroke-width="1.37"><circle cx="686.65" cy="894.02" r="5.75"/><circle cx="603.81" cy="858.69" r="5.75"/><circle cx="579.27" cy="831.26" r="5.75"/><circle cx="541.29" cy="809.21" r="5.75"/><circle cx="511.88" cy="791.41" r="5.75"/><circle cx="485.75" cy="777.69" r="5.75"/><circle cx="455.44" cy="766.8" r="5.75"/><circle cx="425.05" cy="756.37" r="5.75"/><circle cx="407.16" cy="749.1" r="5.75"/><circle cx="391.82" cy="742.19" r="5.75"/><circle cx="377.15" cy="737.22" r="5.75"/><circle cx="366.36" cy="732.93" r="5.75"/><circle cx="356.86" cy="729.36" r="5.75"/><circle cx="349.93" cy="725.84" r="5.75"/><circle cx="345.21" cy="722.93" r="5.75"/><circle cx="340.46" cy="721.69" r="5.75"/><circle cx="338.6" cy="719.57" r="5.75"/><circle cx="342.9" cy="717" r="5.75"/><circle cx="345.86" cy="716.15" r="5.75"/><circle cx="351.29" cy="714.7" r="5.75"/><circle cx="357.32" cy="712.54" r="5.75"/><circle cx="367.95" cy="710.72" r="5.75"/><circle cx="379.59" cy="710.15" r="5.75"/><circle cx="393.32" cy="709.1" r="5.75"/><circle cx="404.23" cy="708.88" r="5.75"/><circle cx="419.76" cy="708.15" r="5.75"/><circle cx="434.86" cy="708.13" r="5.75"/><circle cx="449.14" cy="707.65" r="5.75"/><circle cx="466.35" cy="707.55" r="5.75"/><circle cx="483.99" cy="708.55" r="5.75"/><circle cx="501.99" cy="708.68" r="5.75"/><circle cx="518.92" cy="707.97" r="5.75"/><circle cx="534.9" cy="708.31" r="5.75"/><circle cx="550.92" cy="708.63" r="5.75"/><circle cx="564.59" cy="709.2" r="5.75"/><circle cx="578.57" cy="709.2" r="5.75"/><circle cx="591.15" cy="709.52" r="5.75"/><circle cx="599.88" cy="710.43" r="5.75"/><circle cx="607.86" cy="711.82" r="5.75"/><circle cx="614.26" cy="711.26" r="5.75"/><circle cx="619.45" cy="710.64" r="5.75"/><circle cx="621.45" cy="713.52" r="5.75"/><circle cx="624.9" cy="711.66" r="5.75"/><circle cx="627.85" cy="714.09" r="5.75"/><circle cx="630.48" cy="712.28" r="5.75"/><circle cx="633.7" cy="714.27" r="5.75"/><circle cx="636.23" cy="712.4" r="5.75"/><circle cx="639.32" cy="713.69" r="5.75"/><circle cx="641.72" cy="712.37" r="5.75"/><circle cx="644.43" cy="714.56" r="5.75"/><circle cx="647.42" cy="711.47" r="5.75"/><circle cx="650.27" cy="714.44" r="5.75"/><circle cx="653.5" cy="711.4" r="5.75"/><circle cx="655.96" cy="712.89" r="5.75"/><circle cx="659.79" cy="711.71" r="5.75"/><circle cx="662.7" cy="713.42" r="5.75"/><circle cx="664.71" cy="711.16" r="5.75"/><circle cx="668.03" cy="713" r="5.75"/></g>
<g fill="none" stroke="#202020" stroke-opacity="0.5" stroke-width="1.37"><path d="M700.95 887.02L709.08 895.15L700.95 903.28L692.82 895.15Z"/><path d="M692.82 895.15H709.08"/><path d="M700.95 887.02V903.28"/><path d="M615.79 852.19L623.92 860.31L615.79 868.44L607.66 860.31Z"/><path d="M607.66 860.31H623.92"/><path d="M615.79 852.19V868.44"/><path d="M591.58 824.49L599.71 832.62L591.58 840.75L583.45 832.62Z"/><path d="M583.45 832.62H599.71"/><path d="M591.58 824.49V840.75"/><path d="M552.35 800.76L560.48 808.89L552.35 817.02L544.22 808.89Z"/><path d="M544.22 808.89H560.48"/><path d="M552.35 800.76V817.02"/><path d="M522.16 783.82L530.29 791.95L522.16 800.08L514.03 791.95Z"/><path d="M514.03 791.95H530.29"/><path d="M522.16 783.82V800.08"/><path d="M496.69 770.51L504.82 778.64L496.69 786.77L488.56 778.64Z"/><path d="M488.56 778.64H504.82"/><path d="M496.69 770.51V786.77"/><path d="M464.29 759.43L472.42 767.56L464.29 775.68L456.16 767.56Z"/><path d="M456.16 767.56H472.42"/><path d="M464.29 759.43V775.68"/><path d="M432.88 748.97L441.01 757.1L432.88 765.23L424.75 757.1Z"/><path d="M424.75 757.1H441.01"/><path d="M432.88 748.97V765.23"/><path d="M413.84 740.91L421.97 749.04L413.84 757.17L405.71 749.04Z"/><path d="M405.71 749.04H421.97"/><path d="M413.84 740.91V757.17"/><path d="M397.76 734.56L405.89 742.69L397.76 750.82L389.63 742.69Z"/><path d="M389.63 742.69H405.89"/><path d="M397.76 734.56V750.82"/><path d="M381.55 729.76L389.68 737.89L381.55 746.02L373.42 737.89Z"/><path d="M373.42 737.89H389.68"/><path d="M381.55 729.76V746.02"/><path d="M369.33 724.83L377.46 732.96L369.33 741.09L361.2 732.96Z"/><path d="M361.2 732.96H377.46"/><path d="M369.33 724.83V741.09"/><path d="M360.7 721.67L368.83 729.8L360.7 737.93L352.57 729.8Z"/><path d="M352.57 729.8H368.83"/><path d="M360.7 721.67V737.93"/><path d="M353.82 718.12L361.95 726.25L353.82 734.38L345.69 726.25Z"/><path d="M345.69 726.25H361.95"/><path d="M353.82 718.12V734.38"/><path d="M349.15 715.88L357.28 724.01L349.15 732.14L341.02 724.01Z"/><path d="M341.02 724.01H357.28"/><path d="M349.15 715.88V732.14"/><path d="M344.49 714.04L352.62 722.17L344.49 730.3L336.36 722.17Z"/><path d="M336.36 722.17H352.62"/><path d="M344.49 714.04V730.3"/><path d="M341.34 711.25L349.47 719.38L341.34 727.51L333.21 719.38Z"/><path d="M333.21 719.38H349.47"/><path d="M341.34 711.25V727.51"/><path d="M344.91 709.75L353.04 717.88L344.91 726.01L336.78 717.88Z"/><path d="M336.78 717.88H353.04"/><path d="M344.91 709.75V726.01"/><path d="M348.79 708.16L356.92 716.29L348.79 724.42L340.66 716.29Z"/><path d="M340.66 716.29H356.92"/><path d="M348.79 708.16V724.42"/><path d="M354.05 705.97L362.18 714.1L354.05 722.23L345.92 714.1Z"/><path d="M345.92 714.1H362.18"/><path d="M354.05 705.97V722.23"/><path d="M360.11 704.3L368.24 712.43L360.11 720.56L351.98 712.43Z"/><path d="M351.98 712.43H368.24"/><path d="M360.11 704.3V720.56"/><path d="M372.75 702.41L380.88 710.54L372.75 718.67L364.62 710.54Z"/><path d="M364.62 710.54H380.88"/><path d="M372.75 702.41V718.67"/><path d="M383.6 701.05L391.73 709.18L383.6 717.31L375.47 709.18Z"/><path d="M375.47 709.18H391.73"/><path d="M383.6 701.05V717.31"/><path d="M397.37 701.34L405.5 709.47L397.37 717.6L389.24 709.47Z"/><path d="M389.24 709.47H405.5"/><path d="M397.37 701.34V717.6"/><path d="M408.31 700.26L416.44 708.39L408.31 716.52L400.18 708.39Z"/><path d="M400.18 708.39H416.44"/><path d="M408.31 700.26V716.52"/><path d="M423.49 700.49L431.62 708.62L423.49 716.75L415.36 708.62Z"/><path d="M415.36 708.62H431.62"/><path d="M423.49 700.49V716.75"/><path d="M438.16 700.06L446.29 708.19L438.16 716.32L430.03 708.19Z"/><path d="M430.03 708.19H446.29"/><path d="M438.16 700.06V716.32"/><path d="M453.39 700.53L461.52 708.66L453.39 716.79L445.26 708.66Z"/><path d="M445.26 708.66H461.52"/><path d="M453.39 700.53V716.79"/><path d="M470.46 700.69L478.59 708.82L470.46 716.95L462.34 708.82Z"/><path d="M462.34 708.82H478.59"/><path d="M470.46 700.69V716.95"/><path d="M488 699.67L496.13 707.8L488 715.93L479.87 707.8Z"/><path d="M479.87 707.8H496.13"/><path d="M488 699.67V715.93"/><path d="M506.08 700.07L514.21 708.2L506.08 716.33L497.95 708.2Z"/><path d="M497.95 708.2H514.21"/><path d="M506.08 700.07V716.33"/><path d="M522.15 700.36L530.28 708.49L522.15 716.62L514.02 708.49Z"/><path d="M514.02 708.49H530.28"/><path d="M522.15 700.36V716.62"/><path d="M538.31 700.67L546.44 708.8L538.31 716.93L530.18 708.8Z"/><path d="M530.18 708.8H546.44"/><path d="M538.31 700.67V716.93"/><path d="M554.88 700.87L563.01 709L554.88 717.13L546.75 709Z"/><path d="M546.75 709H563.01"/><path d="M554.88 700.87V717.13"/><path d="M569.18 700.67L577.31 708.8L569.18 716.93L561.05 708.8Z"/><path d="M561.05 708.8H577.31"/><path d="M569.18 700.67V716.93"/><path d="M581.86 701.32L589.99 709.45L581.86 717.58L573.73 709.45Z"/><path d="M573.73 709.45H589.99"/><path d="M581.86 701.32V717.58"/><path d="M595.25 701.49L603.38 709.62L595.25 717.75L587.12 709.62Z"/><path d="M587.12 709.62H603.38"/><path d="M595.25 701.49V717.75"/><path d="M604.84 702.01L612.97 710.14L604.84 718.27L596.71 710.14Z"/><path d="M596.71 710.14H612.97"/><path d="M604.84 702.01V718.27"/><path d="M611.19 702.74L619.32 710.87L611.19 719L603.06 710.87Z"/><path d="M603.06 710.87H619.32"/><path d="M611.19 702.74V719"/><path d="M618.56 703.37L626.69 711.5L618.56 719.63L610.43 711.5Z"/><path d="M610.43 711.5H626.69"/><path d="M618.56 703.37V719.63"/><path d="M622.83 703.29L630.96 711.42L622.83 719.55L614.7 711.42Z"/><path d="M614.7 711.42H630.96"/><path d="M622.83 703.29V719.55"/><path d="M625.53 704.76L633.66 712.89L625.53 721.02L617.4 712.89Z"/><path d="M617.4 712.89H633.66"/><path d="M625.53 704.76V721.02"/><path d="M628.84 703.62L636.97 711.75L628.84 719.88L620.71 711.75Z"/><path d="M620.71 711.75H636.97"/><path d="M628.84 703.62V719.88"/><path d="M632.05 705.49L640.18 713.62L632.05 721.75L623.92 713.62Z"/><path d="M623.92 713.62H640.18"/><path d="M632.05 705.49V721.75"/><path d="M634.39 703.44L642.52 711.57L634.39 719.7L626.26 711.57Z"/><path d="M626.26 711.57H642.52"/><path d="M634.39 703.44V719.7"/><path d="M637.02 706.12L645.15 714.25L637.02 722.38L628.89 714.25Z"/><path d="M628.89 714.25H645.15"/><path d="M637.02 706.12V722.38"/><path d="M640.63 704.3L648.76 712.42L640.63 720.55L632.5 712.42Z"/><path d="M632.5 712.42H648.76"/><path d="M640.63 704.3V720.55"/><path d="M642.84 705.75L650.97 713.88L642.84 722.01L634.71 713.88Z"/><path d="M634.71 713.88H650.97"/><path d="M642.84 705.75V722.01"/><path d="M646.58 704.18L654.71 712.31L646.58 720.44L638.45 712.31Z"/><path d="M638.45 712.31H654.71"/><path d="M646.58 704.18V720.44"/><path d="M648.58 705.81L656.71 713.94L648.58 722.06L640.45 713.94Z"/><path d="M640.45 713.94H656.71"/><path d="M648.58 705.81V722.06"/><path d="M652.54 703.64L660.67 711.77L652.54 719.9L644.41 711.77Z"/><path d="M644.41 711.77H660.67"/><path d="M652.54 703.64V719.9"/><path d="M654.47 705.43L662.6 713.56L654.47 721.69L646.34 713.56Z"/><path d="M646.34 713.56H662.6"/><path d="M654.47 705.43V721.69"/><path d="M658.08 704.25L666.21 712.38L658.08 720.51L649.95 712.38Z"/><path d="M649.95 712.38H666.21"/><path d="M658.08 704.25V720.51"/><path d="M660.22 704.92L668.35 713.05L660.22 721.17L652.09 713.05Z"/><path d="M652.09 713.05H668.35"/><path d="M660.22 704.92V721.17"/><path d="M663.25 703.15L671.38 711.28L663.25 719.41L655.12 711.28Z"/><path d="M655.12 711.28H671.38"/><path d="M663.25 703.15V719.41"/><path d="M666.53 704.48L674.66 712.61L666.53 720.74L658.4 712.61Z"/><path d="M658.4 712.61H674.66"/><path d="M666.53 704.48V720.74"/><path d="M669.16 702.47L677.29 710.59L669.16 718.72L661.03 710.59Z"/><path d="M661.03 710.59H677.29"/><path d="M669.16 702.47V718.72"/><path d="M672.97 704.75L681.1 712.88L672.97 721.01L664.84 712.88Z"/><path d="M664.84 712.88H681.1"/><path d="M672.97 704.75V721.01"/></g>
<g fill="none" stroke="#ff0000" stroke-opacity="0.5" stroke-width="1.37"><path d="M680.14 885.61L687.88 899.02L672.4 899.02Z"/><path d="M597.14 850L604.88 863.41L589.39 863.41Z"/><path d="M574.18 822.77L581.92 836.18L566.44 836.18Z"/><path d="M536.9 799.57L544.65 812.98L529.16 812.98Z"/><path d="M506.88 783.15L514.63 796.56L499.14 796.56Z"/><path d="M481.11 768.15L488.85 781.56L473.37 781.56Z"/><path d="M450.44 756.81L458.18 770.22L442.7 770.22Z"/><path d="M421.5 748.17L429.25 761.58L413.76 761.58Z"/><path d="M405.02 739.96L412.77 753.37L397.28 753.37Z"/><path d="M389.25 733.41L396.99 746.82L381.5 746.82Z"/><path d="M374.16 728.51L381.9 741.92L366.42 741.92Z"/><path d="M363.62 724L371.36 737.41L355.87 737.41Z"/><path d="M356 719.76L363.74 733.17L348.25 733.17Z"/><path d="M349.05 717.21L356.8 730.62L341.31 730.62Z"/><path d="M343.75 713.98L351.49 727.39L336.01 727.39Z"/><path d="M340.01 712.89L347.75 726.3L332.27 726.3Z"/><path d="M338.38 710.84L346.13 724.25L330.64 724.25Z"/><path d="M341.49 708.81L349.24 722.22L333.75 722.22Z"/><path d="M345.2 707L352.94 720.41L337.46 720.41Z"/><path d="M349.74 705.74L357.48 719.15L342 719.15Z"/><path d="M355.04 703.95L362.78 717.36L347.29 717.36Z"/><path d="M366.7 702.36L374.44 715.77L358.95 715.77Z"/><path d="M378.48 700.31L386.22 713.72L370.74 713.72Z"/><path d="M390.89 699.8L398.64 713.21L383.15 713.21Z"/><path d="M403.17 699.33L410.91 712.74L395.43 712.74Z"/><path d="M417.75 699.86L425.49 713.27L410 713.27Z"/><path d="M432.16 699.48L439.9 712.89L424.41 712.89Z"/><path d="M447.99 699.1L455.73 712.51L440.25 712.51Z"/><path d="M464.79 699.92L472.53 713.33L457.04 713.33Z"/><path d="M481.65 699.32L489.4 712.73L473.91 712.73Z"/><path d="M499.33 699.65L507.07 713.06L491.58 713.06Z"/><path d="M517.32 699.39L525.06 712.8L509.57 712.8Z"/><path d="M532.34 699.56L540.08 712.97L524.6 712.97Z"/><path d="M548.66 699.96L556.4 713.37L540.92 713.37Z"/><path d="M563.02 700.26L570.76 713.67L555.27 713.67Z"/><path d="M576.46 700.69L584.2 714.1L568.72 714.1Z"/><path d="M588.57 701.89L596.32 715.3L580.83 715.3Z"/><path d="M597.89 702.12L605.64 715.53L590.15 715.53Z"/><path d="M605.45 702.63L613.19 716.04L597.71 716.04Z"/><path d="M611.47 703.24L619.21 716.65L603.73 716.65Z"/><path d="M616.8 701.32L624.54 714.73L609.06 714.73Z"/><path d="M619.58 703.87L627.33 717.28L611.84 717.28Z"/><path d="M622.12 702.34L629.86 715.75L614.38 715.75Z"/><path d="M625.59 704.75L633.33 718.16L617.85 718.16Z"/><path d="M628.39 702.54L636.14 715.95L620.65 715.95Z"/><path d="M631.11 705.17L638.86 718.58L623.37 718.58Z"/><path d="M635.02 703.18L642.76 716.59L627.27 716.59Z"/><path d="M636.91 705.45L644.65 718.86L629.16 718.86Z"/><path d="M640.05 702.86L647.79 716.27L632.31 716.27Z"/><path d="M642.58 705.44L650.32 718.85L634.84 718.85Z"/><path d="M646.43 703.38L654.18 716.79L638.69 716.79Z"/><path d="M648.86 704.98L656.6 718.39L641.11 718.39Z"/><path d="M651.42 703.61L659.16 717.02L643.67 717.02Z"/><path d="M654.49 704.78L662.24 718.19L646.75 718.19Z"/><path d="M658.05 703.02L665.79 716.43L650.3 716.43Z"/><path d="M660.46 703.86L668.2 717.27L652.71 717.27Z"/><path d="M663.47 701.57L671.21 714.98L655.73 714.98Z"/><path d="M666.77 703.42L674.51 716.83L659.02 716.83Z"/></g>
<g fill="none" stroke="#00ee00" stroke-opacity="0.5" stroke-width="1.37"><path d="M673.06 893.57H689.32"/><path d="M681.19 885.44V901.7"/><path d="M589.39 858.75H605.65"/><path d="M597.52 850.63V866.88"/><path d="M565.27 830.86H581.53"/><path d="M573.4 822.73V838.99"/><path d="M527.75 808.91H544.01"/><path d="M535.88 800.78V817.04"/><path d="M498.87 791.54H515.13"/><path d="M507 783.41V799.67"/><path d="M473.26 777.47H489.52"/><path d="M481.39 769.34V785.6"/><path d="M442.37 766.59H458.63"/><path d="M450.5 758.46V774.72"/><path d="M413.74 756.51H430"/><path d="M421.87 748.38V764.64"/><path d="M397.22 749.4H413.48"/><path d="M405.35 741.27V757.53"/><path d="M380.31 742.86H396.57"/><path d="M388.44 734.73V750.99"/><path d="M367.1 737.7H383.36"/><path d="M375.23 729.57V745.83"/><path d="M355.12 733.06H371.38"/><path d="M363.25 724.93V741.19"/><path d="M347.48 728.12H363.74"/><path d="M355.61 719.99V736.25"/><path d="M340.14 726.43H356.4"/><path d="M348.27 718.3V734.56"/><path d="M335.95 722.95H352.21"/><path d="M344.08 714.82V731.08"/><path d="M331.01 720.8H347.27"/><path d="M339.14 712.67V728.93"/><path d="M329.5 719.89H345.76"/><path d="M337.63 711.76V728.02"/><path d="M332.66 717.01H348.91"/><path d="M340.79 708.88V725.14"/><path d="M337.44 716.41H353.7"/><path d="M345.57 708.28V724.54"/><path d="M341.41 715.05H357.66"/><path d="M349.54 706.92V723.18"/><path d="M347.62 713.39H363.88"/><path d="M355.75 705.26V721.52"/><path d="M358.41 711.55H374.67"/><path d="M366.54 703.42V719.68"/><path d="M370.57 710.07H386.83"/><path d="M378.7 701.94V718.2"/><path d="M382.45 709.07H398.71"/><path d="M390.58 700.94V717.2"/><path d="M394.91 708.74H411.17"/><path d="M403.04 700.61V716.87"/><path d="M409.28 708.74H425.54"/><path d="M417.41 700.61V716.87"/><path d="M424.55 707.87H440.81"/><path d="M432.68 699.74V716"/><path d="M439.1 707.7H455.36"/><path d="M447.23 699.57V715.82"/><path d="M456.66 707.58H472.92"/><path d="M464.79 699.45V715.71"/><path d="M474.12 707.7H490.38"/><path d="M482.25 699.57V715.83"/><path d="M491.66 708.2H507.92"/><path d="M499.79 700.07V716.33"/><path d="M508.63 708.81H524.89"/><path d="M516.76 700.68V716.94"/><path d="M524.08 708.88H540.34"/><path d="M532.21 700.75V717.01"/><path d="M540.43 708.69H556.68"/><path d="M548.56 700.56V716.82"/><path d="M555.1 709.48H571.36"/><path d="M563.23 701.35V717.61"/><path d="M567.7 709.49H583.95"/><path d="M575.82 701.36V717.62"/><path d="M581.22 709.61H597.47"/><path d="M589.34 701.48V717.74"/><path d="M590.36 710.99H606.62"/><path d="M598.49 702.86V719.12"/><path d="M596.81 711.35H613.07"/><path d="M604.94 703.22V719.48"/><path d="M604.13 712.1H620.39"/><path d="M612.26 703.97V720.23"/><path d="M608.63 711.56H624.89"/><path d="M616.76 703.43V719.69"/><path d="M611.79 712.93H628.04"/><path d="M619.91 704.8V721.06"/><path d="M615.23 710.74H631.49"/><path d="M623.36 702.61V718.87"/><path d="M617.88 713.59H634.14"/><path d="M626.01 705.46V721.72"/><path d="M620.24 712.32H636.5"/><path d="M628.37 704.19V720.45"/><path d="M623.18 713.73H639.44"/><path d="M631.31 705.6V721.86"/><path d="M626.31 712.47H642.57"/><path d="M634.44 704.34V720.59"/><path d="M628.77 713.87H645.02"/><path d="M636.9 705.74V722"/><path d="M631.96 712.27H648.22"/><path d="M640.09 704.14V720.4"/><path d="M635.43 713.7H651.69"/><path d="M643.56 705.57V721.83"/><path d="M638.33 712H654.59"/><path d="M646.46 703.87V720.13"/><path d="M640.78 713.52H657.04"/><path d="M648.91 705.39V721.65"/><path d="M643.68 712.57H659.94"/><path d="M651.81 704.44V720.7"/><path d="M646.79 713.94H663.05"/><path d="M654.92 705.81V722.07"/><path d="M649.23 711.26H665.49"/><path d="M657.36 703.13V719.39"/><path d="M652.09 713.21H668.35"/><path d="M660.22 705.08V721.34"/><path d="M655.46 711.43H671.72"/><path d="M663.59 703.3V719.56"/><path d="M657.53 712.87H673.79"/><path d="M665.66 704.74V721"/></g>
<g fill="none" stroke="#ff00ff" stroke-opacity="0.5" stroke-width="1.37"><path d="M681.83 888.21L693.32 899.71" stroke-opacity="0.22"/><path d="M681.83 899.71L693.32 888.21" stroke-opacity="0.22"/><path d="M597.3 853.07L608.8 864.57" stroke-opacity="0.22"/><path d="M597.3 864.57L608.8 853.07" stroke-opacity="0.22"/><path d="M572.66 825.12L584.16 836.61" stroke-opacity="0.22"/><path d="M572.66 836.61L584.16 825.12" stroke-opacity="0.22"/><path d="M536.64 803L548.14 814.5" stroke-opacity="0.22"/><path d="M536.64 814.5L548.14 803" stroke-opacity="0.22"/><path d="M506.71 786.56L518.2 798.05" stroke-opacity="0.22"/><path d="M506.71 798.05L518.2 786.56" stroke-opacity="0.22"/><path d="M481.14 771.91L492.64 783.41" stroke-opacity="0.22"/><path d="M481.14 783.41L492.64 771.91" stroke-opacity="0.22"/><path d="M449.33 760.83L460.83 772.33" stroke-opacity="0.22"/><path d="M449.33 772.33L460.83 760.83" stroke-opacity="0.22"/><path d="M419.71 751.09L431.21 762.58" stroke-opacity="0.22"/><path d="M419.71 762.58L431.21 751.09" stroke-opacity="0.22"/><path d="M402.35 742.75L413.84 754.25" stroke-opacity="0.22"/><path d="M402.35 754.25L413.84 742.75" stroke-opacity="0.22"/><path d="M386.22 736.59L397.71 748.09" stroke-opacity="0.22"/><path d="M386.22 748.09L397.71 736.59" stroke-opacity="0.22"/><path d="M371.56 730.99L383.06 742.49" stroke-opacity="0.22"/><path d="M371.56 742.49L383.06 730.99" stroke-opacity="0.22"/><path d="M359.56 726.2L371.05 737.7" stroke-opacity="0.22"/><path d="M359.56 737.7L371.05 726.2" stroke-opacity="0.22"/><path d="M351.84 723.63L363.34 735.13" stroke-opacity="0.22"/><path d="M351.84 735.13L363.34 723.63" stroke-opacity="0.22"/><path d="M345.04 719.87L356.53 731.37" stroke-opacity="0.22"/><path d="M345.04 731.37L356.53 719.87" stroke-opacity="0.22"/><path d="M340.05 717.95L351.55 729.45" stroke-opacity="0.22"/><path d="M340.05 729.45L351.55 717.95" stroke-opacity="0.22"/><path d="M335.41 715.21L346.91 726.71" stroke-opacity="0.22"/><path d="M335.41 726.71L346.91 715.21" stroke-opacity="0.22"/><path d="M333.25 713.64L344.75 725.14" stroke-opacity="0.22"/><path d="M333.25 725.14L344.75 713.64" stroke-opacity="0.22"/><path d="M336.28 711.65L347.77 723.15" stroke-opacity="0.22"/><path d="M336.28 723.15L347.77 711.65" stroke-opacity="0.22"/><path d="M340.73 710.86L352.23 722.36" stroke-opacity="0.22"/><path d="M340.73 722.36L352.23 710.86" stroke-opacity="0.22"/><path d="M344.91 708.85L356.41 720.34" stroke-opacity="0.22"/><path d="M344.91 720.34L356.41 708.85" stroke-opacity="0.22"/><path d="M350.49 706.72L361.98 718.22" stroke-opacity="0.22"/><path d="M350.49 718.22L361.98 706.72" stroke-opacity="0.22"/><path d="M362.91 705.36L374.4 716.85" stroke-opacity="0.22"/><path d="M362.91 716.85L374.4 705.36" stroke-opacity="0.22"/><path d="M375.06 703.78L386.55 715.27" stroke-opacity="0.22"/><path d="M375.06 715.27L386.55 703.78" stroke-opacity="0.22"/><path d="M386.49 702.89L397.99 714.39" stroke-opacity="0.22"/><path d="M386.49 714.39L397.99 702.89" stroke-opacity="0.22"/><path d="M399.3 703.26L410.8 714.76" stroke-opacity="0.22"/><path d="M399.3 714.76L410.8 703.26" stroke-opacity="0.22"/><path d="M414.34 702.42L425.84 713.91" stroke-opacity="0.22"/><path d="M414.34 713.91L425.84 702.42" stroke-opacity="0.22"/><path d="M428.65 701.89L440.15 713.39" stroke-opacity="0.22"/><path d="M428.65 713.39L440.15 701.89" stroke-opacity="0.22"/><path d="M443.97 702.05L455.47 713.55" stroke-opacity="0.22"/><path d="M443.97 713.55L455.47 702.05" stroke-opacity="0.22"/><path d="M460.48 701.77L471.98 713.27" stroke-opacity="0.22"/><path d="M460.48 713.27L471.98 701.77" stroke-opacity="0.22"/><path d="M477.78 702.71L489.28 714.21" stroke-opacity="0.22"/><path d="M477.78 714.21L489.28 702.71" stroke-opacity="0.22"/><path d="M495.44 703.1L506.94 714.6" stroke-opacity="0.22"/><path d="M495.44 714.6L506.94 703.1" stroke-opacity="0.22"/><path d="M512.29 703.07L523.79 714.57" stroke-opacity="0.22"/><path d="M512.29 714.57L523.79 703.07" stroke-opacity="0.22"/><path d="M528.55 701.98L540.05 713.47" stroke-opacity="0.22"/><path d="M528.55 713.47L540.05 701.98" stroke-opacity="0.22"/><path d="M545.08 702.49L556.58 713.99" stroke-opacity="0.22"/><path d="M545.08 713.99L556.58 702.49" stroke-opacity="0.22"/><path d="M559.5 702.81L571 714.31" stroke-opacity="0.22"/><path d="M559.5 714.31L571 702.81" stroke-opacity="0.22"/><path d="M571.54 704.23L583.04 715.73" stroke-opacity="0.22"/><path d="M571.54 715.73L583.04 704.23" stroke-opacity="0.22"/><path d="M585.17 704.95L596.67 716.45" stroke-opacity="0.22"/><path d="M585.17 716.45L596.67 704.95" stroke-opacity="0.22"/><path d="M594.79 704.47L606.29 715.97" stroke-opacity="0.22"/><path d="M594.79 715.97L606.29 704.47" stroke-opacity="0.22"/><path d="M601.95 705.74L613.45 717.24" stroke-opacity="0.22"/><path d="M601.95 717.24L613.45 705.74" stroke-opacity="0.22"/><path d="M608.12 706.36L619.61 717.85" stroke-opacity="0.22"/><path d="M608.12 717.85L619.61 706.36" stroke-opacity="0.22"/><path d="M612.83 705.78L624.32 717.28" stroke-opacity="0.22"/><path d="M612.83 717.28L624.32 705.78" stroke-opacity="0.22"/><path d="M616.38 706.51L627.87 718.01" stroke-opacity="0.22"/><path d="M616.38 718.01L627.87 706.51" stroke-opacity="0.22"/><path d="M618.29 705.86L629.79 717.35" stroke-opacity="0.22"/><path d="M618.29 717.35L629.79 705.86" stroke-opacity="0.22"/><path d="M622.32 707.08L633.81 718.58" stroke-opacity="0.22"/><path d="M622.32 718.58L633.81 707.08" stroke-opacity="0.22"/><path d="M624.51 706.38L636 717.88" stroke-opacity="0.22"/><path d="M624.51 717.88L636 706.38" stroke-opacity="0.22"/><path d="M627.2 708.52L638.7 720.02" stroke-opacity="0.22"/><path d="M627.2 720.02L638.7 708.52" stroke-opacity="0.22"/><path d="M630.55 705.72L642.05 717.22" stroke-opacity="0.22"/><path d="M630.55 717.22L642.05 705.72" stroke-opacity="0.22"/><path d="M633.29 708.32L644.78 719.82" stroke-opacity="0.22"/><path d="M633.29 719.82L644.78 708.32" stroke-opacity="0.22"/><path d="M636.29 706.7L647.78 718.19" stroke-opacity="0.22"/><path d="M636.29 718.19L647.78 706.7" stroke-opacity="0.22"/><path d="M638.77 708.66L650.27 720.15" stroke-opacity="0.22"/><path d="M638.77 720.15L650.27 708.66" stroke-opacity="0.22"/><path d="M641.98 706.59L653.48 718.09" stroke-opacity="0.22"/><path d="M641.98 718.09L653.48 706.59" stroke-opacity="0.22"/><path d="M645.25 707.97L656.75 719.47" stroke-opacity="0.22"/><path d="M645.25 719.47L656.75 707.97" stroke-opacity="0.22"/><path d="M647.81 706.55L659.31 718.05" stroke-opacity="0.22"/><path d="M647.81 718.05L659.31 706.55" stroke-opacity="0.22"/><path d="M651.49 708.18L662.99 719.67" stroke-opacity="0.22"/><path d="M651.49 719.67L662.99 708.18" stroke-opacity="0.22"/><path d="M653.86 705.48L665.36 716.98" stroke-opacity="0.22"/><path d="M653.86 716.98L665.36 705.48" stroke-opacity="0.22"/><path d="M656.06 708L667.55 719.5" stroke-opacity="0.22"/><path d="M656.06 719.5L667.55 708" stroke-opacity="0.22"/><path d="M659.86 705.74L671.35 717.24" stroke-opacity="0.22"/><path d="M659.86 717.24L671.35 705.74" stroke-opacity="0.22"/><path d="M662.24 706.96L673.73 718.46" stroke-opacity="0.22"/><path d="M662.24 718.46L673.73 706.96" stroke-opacity="0.22"/></g>
<g fill="none" stroke="#00ffff" stroke-opacity="0.5" stroke-width="1.37"><path d="M705.13 886.93L713.26 895.06L705.13 903.19L697 895.06Z"/><path d="M620.28 851.4L628.41 859.53L620.28 867.66L612.15 859.53Z"/><path d="M594.4 824.41L602.53 832.54L594.4 840.67L586.27 832.54Z"/><path d="M555.99 801.43L564.12 809.56L555.99 817.69L547.86 809.56Z"/><path d="M525.92 785.02L534.05 793.15L525.92 801.28L517.79 793.15Z"/><path d="M499.54 769.77L507.67 777.9L499.54 786.03L491.41 777.9Z"/><path d="M466.1 758.64L474.23 766.77L466.1 774.9L457.97 766.77Z"/><path d="M434.8 749.39L442.93 757.52L434.8 765.65L426.67 757.52Z"/><path d="M416.77 742.01L424.9 750.14L416.77 758.27L408.64 750.14Z"/><path d="M398.43 735.44L406.56 743.57L398.43 751.7L390.3 743.57Z"/><path d="M383.66 730.38L391.79 738.51L383.66 746.64L375.53 738.51Z"/><path d="M371.35 724.85L379.48 732.98L371.35 741.11L363.22 732.98Z"/><path d="M362.61 721.8L370.74 729.93L362.61 738.06L354.48 729.93Z"/><path d="M355.27 718.95L363.4 727.08L355.27 735.21L347.14 727.08Z"/><path d="M349.21 715.29L357.34 723.42L349.21 731.55L341.08 723.42Z"/><path d="M344.94 714.29L353.06 722.42L344.94 730.55L336.81 722.42Z"/><path d="M342.38 711.72L350.51 719.85L342.38 727.98L334.25 719.85Z"/><path d="M346.4 709L354.53 717.13L346.4 725.26L338.27 717.13Z"/><path d="M349.95 708.12L358.08 716.25L349.95 724.38L341.82 716.25Z"/><path d="M354.75 705.96L362.88 714.09L354.75 722.22L346.62 714.09Z"/><path d="M360.06 705.22L368.19 713.35L360.06 721.48L351.93 713.35Z"/><path d="M373.91 702.81L382.04 710.94L373.91 719.07L365.78 710.94Z"/><path d="M384.92 701.9L393.05 710.03L384.92 718.16L376.79 710.03Z"/><path d="M398.58 700.3L406.71 708.43L398.58 716.56L390.45 708.43Z"/><path d="M410.31 700.83L418.44 708.96L410.31 717.09L402.18 708.96Z"/><path d="M425.24 700.1L433.37 708.23L425.24 716.36L417.11 708.23Z"/><path d="M439.77 700.2L447.9 708.33L439.77 716.45L431.64 708.33Z"/><path d="M454.36 699.64L462.49 707.77L454.36 715.9L446.24 707.77Z"/><path d="M471.55 700.35L479.68 708.48L471.55 716.61L463.42 708.48Z"/><path d="M489.31 700.16L497.44 708.29L489.31 716.42L481.18 708.29Z"/><path d="M506.86 700.09L514.99 708.22L506.86 716.35L498.73 708.22Z"/><path d="M523.41 699.53L531.54 707.66L523.41 715.79L515.28 707.66Z"/><path d="M540.8 700.09L548.93 708.22L540.8 716.35L532.67 708.22Z"/><path d="M555.25 700.66L563.38 708.79L555.25 716.92L547.12 708.79Z"/><path d="M570.6 700.39L578.73 708.52L570.6 716.65L562.47 708.52Z"/><path d="M583.34 701.25L591.47 709.38L583.34 717.51L575.21 709.38Z"/><path d="M595.93 701.4L604.06 709.53L595.93 717.66L587.8 709.53Z"/><path d="M604.85 703.36L612.98 711.49L604.85 719.62L596.72 711.49Z"/><path d="M613.31 703.05L621.44 711.18L613.31 719.31L605.18 711.18Z"/><path d="M619.29 703.04L627.42 711.17L619.29 719.3L611.16 711.17Z"/><path d="M624.59 702.65L632.72 710.78L624.59 718.91L616.46 710.78Z"/><path d="M627.73 705.19L635.85 713.32L627.73 721.45L619.6 713.32Z"/><path d="M630.45 703.91L638.58 712.04L630.45 720.17L622.32 712.04Z"/><path d="M632.56 704.64L640.69 712.77L632.56 720.9L624.43 712.77Z"/><path d="M635.38 703.23L643.51 711.36L635.38 719.49L627.25 711.36Z"/><path d="M638.12 705.01L646.25 713.14L638.12 721.27L629.99 713.14Z"/><path d="M641.68 704.48L649.81 712.61L641.68 720.73L633.55 712.61Z"/><path d="M644.44 706.46L652.57 714.59L644.44 722.72L636.31 714.59Z"/><path d="M647.97 703.46L656.1 711.59L647.97 719.72L639.84 711.59Z"/><path d="M650.44 705.71L658.57 713.84L650.44 721.97L642.31 713.84Z"/><path d="M652.67 704.65L660.8 712.78L652.67 720.91L644.54 712.78Z"/><path d="M655.76 705.8L663.89 713.93L655.76 722.06L647.63 713.93Z"/><path d="M659.2 704.41L667.33 712.54L659.2 720.67L651.07 712.54Z"/><path d="M662.14 705.25L670.27 713.38L662.14 721.51L654.01 713.38Z"/><path d="M664.73 702.91L672.86 711.04L664.73 719.17L656.6 711.04Z"/><path d="M668.35 705.64L676.48 713.77L668.35 721.9L660.22 713.77Z"/><path d="M670.21 702.25L678.34 710.38L670.21 718.51L662.08 710.38Z"/><path d="M673.16 704.22L681.29 712.35L673.16 720.48L665.03 712.35Z"/></g>
<g fill="none" stroke="#a0a0a0" stroke-opacity="0.5" stroke-width="1.37"><path d="M701.06 904.11L708.81 890.7L693.32 890.7Z"/><path d="M616.87 868.11L624.61 854.7L609.13 854.7Z"/><path d="M591.4 841.23L599.14 827.82L583.66 827.82Z"/><path d="M553.11 818.92L560.85 805.51L545.36 805.51Z"/><path d="M522.08 801.04L529.82 787.63L514.34 787.63Z"/><path d="M496.56 787.75L504.3 774.34L488.81 774.34Z"/><path d="M464.35 775.76L472.09 762.35L456.61 762.35Z"/><path d="M432.83 766.7L440.57 753.29L425.09 753.29Z"/><path d="M413.85 758.29L421.59 744.88L406.11 744.88Z"/><path d="M397.06 751.51L404.8 738.1L389.32 738.1Z"/><path d="M381.77 746.48L389.52 733.07L374.03 733.07Z"/><path d="M369.63 741.74L377.38 728.33L361.89 728.33Z"/><path d="M361.25 737.76L368.99 724.35L353.51 724.35Z"/><path d="M354.3 735.01L362.05 721.6L346.56 721.6Z"/><path d="M347.85 733.54L355.59 720.13L340.11 720.13Z"/><path d="M343.61 731.55L351.35 718.14L335.87 718.14Z"/><path d="M342.51 728.98L350.26 715.57L334.77 715.57Z"/><path d="M344.5 726.37L352.24 712.96L336.75 712.96Z"/><path d="M348.44 725.54L356.18 712.13L340.69 712.13Z"/><path d="M354.48 723.62L362.22 710.21L346.74 710.21Z"/><path d="M359.53 721.72L367.28 708.31L351.79 708.31Z"/><path d="M372.75 719.91L380.49 706.5L365.01 706.5Z"/><path d="M384.48 718.04L392.22 704.63L376.74 704.63Z"/><path d="M396.61 717.12L404.35 703.71L388.87 703.71Z"/><path d="M409.3 717.41L417.04 704L401.56 704Z"/><path d="M423 717.66L430.74 704.25L415.26 704.25Z"/><path d="M438.27 717.02L446.02 703.61L430.53 703.61Z"/><path d="M453.12 716.82L460.86 703.41L445.38 703.41Z"/><path d="M471.28 716.91L479.02 703.5L463.53 703.5Z"/><path d="M487.83 717.13L495.58 703.72L480.09 703.72Z"/><path d="M505.55 717.7L513.29 704.29L497.8 704.29Z"/><path d="M522.16 717.91L529.9 704.5L514.42 704.5Z"/><path d="M538.28 717.89L546.02 704.48L530.54 704.48Z"/><path d="M554.84 717.14L562.58 703.73L547.09 703.73Z"/><path d="M568.97 717.64L576.71 704.23L561.23 704.23Z"/><path d="M581.66 718.12L589.4 704.71L573.92 704.71Z"/><path d="M594.51 719.83L602.25 706.42L586.77 706.42Z"/><path d="M605 720.33L612.74 706.92L597.26 706.92Z"/><path d="M611.04 719.84L618.78 706.44L603.29 706.44Z"/><path d="M618.55 719.82L626.3 706.41L610.81 706.41Z"/><path d="M623.32 719.53L631.06 706.12L615.57 706.12Z"/><path d="M626.57 721.21L634.31 707.8L618.83 707.8Z"/><path d="M629.23 720.11L636.97 706.7L621.49 706.7Z"/><path d="M631.2 721.66L638.94 708.25L623.45 708.25Z"/><path d="M635.07 720.79L642.81 707.38L627.32 707.38Z"/><path d="M637.06 722.62L644.8 709.21L629.32 709.21Z"/><path d="M640.98 720.63L648.72 707.22L633.23 707.22Z"/><path d="M643.4 722.4L651.14 708.99L635.66 708.99Z"/><path d="M645.75 721.52L653.49 708.11L638.01 708.11Z"/><path d="M649.4 722.5L657.14 709.09L641.65 709.09Z"/><path d="M651.41 720.5L659.15 707.09L643.67 707.09Z"/><path d="M655.05 722.77L662.79 709.36L647.31 709.36Z"/><path d="M657.48 720.43L665.23 707.02L649.74 707.02Z"/><path d="M660.86 722.76L668.6 709.35L653.12 709.35Z"/><path d="M664.04 720.58L671.78 707.17L656.29 707.17Z"/><path d="M666.08 721.42L673.83 708.01L658.34 708.01Z"/><path d="M669.73 719.84L677.47 706.43L661.98 706.43Z"/><path d="M672.61 720.88L680.35 707.47L664.87 707.47Z"/></g>
<g fill="none" stroke="#ffa500" stroke-opacity="0.35" stroke-width="1.37"><path d="M695.19 888.62h11.5v11.5h-11.5Z"/><path d="M695.19 888.62L706.68 900.12" stroke-opacity="0.22"/><path d="M695.19 900.12L706.68 888.62" stroke-opacity="0.22"/><path d="M611.13 854.56h11.5v11.5h-11.5Z"/><path d="M611.13 854.56L622.63 866.06" stroke-opacity="0.22"/><path d="M611.13 866.06L622.63 854.56" stroke-opacity="0.22"/><path d="M585.24 825.57h11.5v11.5h-11.5Z"/><path d="M585.24 825.57L596.74 837.07" stroke-opacity="0.22"/><path d="M585.24 837.07L596.74 825.57" stroke-opacity="0.22"/><path d="M547.73 803.52h11.5v11.5h-11.5Z"/><path d="M547.73 803.52L559.22 815.02" stroke-opacity="0.22"/><path d="M547.73 815.02L559.22 803.52" stroke-opacity="0.22"/><path d="M517.47 786.52h11.5v11.5h-11.5Z"/><path d="M517.47 786.52L528.97 798.02" stroke-opacity="0.22"/><path d="M517.47 798.02L528.97 786.52" stroke-opacity="0.22"/><path d="M490.01 772.92h11.5v11.5h-11.5Z"/><path d="M490.01 772.92L501.51 784.41" stroke-opacity="0.22"/><path d="M490.01 784.41L501.51 772.92" stroke-opacity="0.22"/><path d="M458.17 760.88h11.5v11.5h-11.5Z"/><path d="M458.17 760.88L469.66 772.38" stroke-opacity="0.22"/><path d="M458.17 772.38L469.66 760.88" stroke-opacity="0.22"/><path d="M426.77 751.78h11.5v11.5h-11.5Z"/><path d="M426.77 751.78L438.27 763.28" stroke-opacity="0.22"/><path d="M426.77 763.28L438.27 751.78" stroke-opacity="0.22"/><path d="M407.96 743.88h11.5v11.5h-11.5Z"/><path d="M407.96 743.88L419.46 755.38" stroke-opacity="0.22"/><path d="M407.96 755.38L419.46 743.88" stroke-opacity="0.22"/><path d="M391.58 737.37h11.5v11.5h-11.5Z"/><path d="M391.58 737.37L403.07 748.87" stroke-opacity="0.22"/><path d="M391.58 748.87L403.07 737.37" stroke-opacity="0.22"/><path d="M375.52 732.55h11.5v11.5h-11.5Z"/><path d="M375.52 732.55L387.02 744.05" stroke-opacity="0.22"/><path d="M375.52 744.05L387.02 732.55" stroke-opacity="0.22"/><path d="M364.69 728.06h11.5v11.5h-11.5Z"/><path d="M364.69 728.06L376.19 739.56" stroke-opacity="0.22"/><path d="M364.69 739.56L376.19 728.06" stroke-opacity="0.22"/><path d="M355 724.05h11.5v11.5h-11.5Z"/><path d="M355 724.05L366.5 735.54" stroke-opacity="0.22"/><path d="M355 735.54L366.5 724.05" stroke-opacity="0.22"/><path d="M348.09 721.1h11.5v11.5h-11.5Z"/><path d="M348.09 721.1L359.58 732.6" stroke-opacity="0.22"/><path d="M348.09 732.6L359.58 721.1" stroke-opacity="0.22"/><path d="M342.14 718.77h11.5v11.5h-11.5Z"/><path d="M342.14 718.77L353.63 730.27" stroke-opacity="0.22"/><path d="M342.14 730.27L353.63 718.77" stroke-opacity="0.22"/><path d="M338.89 716.24h11.5v11.5h-11.5Z"/><path d="M338.89 716.24L350.38 727.74" stroke-opacity="0.22"/><path d="M338.89 727.74L350.38 716.24" stroke-opacity="0.22"/><path d="M336.27 713.79h11.5v11.5h-11.5Z"/><path d="M336.27 713.79L347.77 725.29" stroke-opacity="0.22"/><path d="M336.27 725.29L347.77 713.79" stroke-opacity="0.22"/><path d="M339.3 711.08h11.5v11.5h-11.5Z"/><path d="M339.3 711.08L350.8 722.58" stroke-opacity="0.22"/><path d="M339.3 722.58L350.8 711.08" stroke-opacity="0.22"/><path d="M343.91 709.86h11.5v11.5h-11.5Z"/><path d="M343.91 709.86L355.4 721.36" stroke-opacity="0.22"/><path d="M343.91 721.36L355.4 709.86" stroke-opacity="0.22"/><path d="M347.81 708.2h11.5v11.5h-11.5Z"/><path d="M347.81 708.2L359.3 719.69" stroke-opacity="0.22"/><path d="M347.81 719.69L359.3 708.2" stroke-opacity="0.22"/><path d="M353.5 707.7h11.5v11.5h-11.5Z"/><path d="M353.5 707.7L365 719.19" stroke-opacity="0.22"/><path d="M353.5 719.19L365 707.7" stroke-opacity="0.22"/><path d="M365.89 704.69h11.5v11.5h-11.5Z"/><path d="M365.89 704.69L377.39 716.18" stroke-opacity="0.22"/><path d="M365.89 716.18L377.39 704.69" stroke-opacity="0.22"/><path d="M378.83 703.42h11.5v11.5h-11.5Z"/><path d="M378.83 703.42L390.33 714.92" stroke-opacity="0.22"/><path d="M378.83 714.92L390.33 703.42" stroke-opacity="0.22"/><path d="M390.58 703.19h11.5v11.5h-11.5Z"/><path d="M390.58 703.19L402.07 714.69" stroke-opacity="0.22"/><path d="M390.58 714.69L402.07 703.19" stroke-opacity="0.22"/><path d="M403.36 702.68h11.5v11.5h-11.5Z"/><path d="M403.36 702.68L414.86 714.18" stroke-opacity="0.22"/><path d="M403.36 714.18L414.86 702.68" stroke-opacity="0.22"/><path d="M418.04 701.9h11.5v11.5h-11.5Z"/><path d="M418.04 701.9L429.53 713.39" stroke-opacity="0.22"/><path d="M418.04 713.39L429.53 701.9" stroke-opacity="0.22"/><path d="M433.37 702.76h11.5v11.5h-11.5Z"/><path d="M433.37 702.76L444.87 714.25" stroke-opacity="0.22"/><path d="M433.37 714.25L444.87 702.76" stroke-opacity="0.22"/><path d="M447.21 701.92h11.5v11.5h-11.5Z"/><path d="M447.21 701.92L458.71 713.42" stroke-opacity="0.22"/><path d="M447.21 713.42L458.71 701.92" stroke-opacity="0.22"/><path d="M465.04 702.45h11.5v11.5h-11.5Z"/><path d="M465.04 702.45L476.54 713.95" stroke-opacity="0.22"/><path d="M465.04 713.95L476.54 702.45" stroke-opacity="0.22"/><path d="M482.24 701.92h11.5v11.5h-11.5Z"/><path d="M482.24 701.92L493.74 713.42" stroke-opacity="0.22"/><path d="M482.24 713.42L493.74 701.92" stroke-opacity="0.22"/><path d="M499.92 701.94h11.5v11.5h-11.5Z"/><path d="M499.92 701.94L511.42 713.44" stroke-opacity="0.22"/><path d="M499.92 713.44L511.42 701.94" stroke-opacity="0.22"/><path d="M517.08 703.06h11.5v11.5h-11.5Z"/><path d="M517.08 703.06L528.58 714.55" stroke-opacity="0.22"/><path d="M517.08 714.55L528.58 703.06" stroke-opacity="0.22"/><path d="M532.66 702.75h11.5v11.5h-11.5Z"/><path d="M532.66 702.75L544.15 714.25" stroke-opacity="0.22"/><path d="M532.66 714.25L544.15 702.75" stroke-opacity="0.22"/><path d="M549.2 702.38h11.5v11.5h-11.5Z"/><path d="M549.2 702.38L560.69 713.88" stroke-opacity="0.22"/><path d="M549.2 713.88L560.69 702.38" stroke-opacity="0.22"/><path d="M563.71 703.86h11.5v11.5h-11.5Z"/><path d="M563.71 703.86L575.21 715.36" stroke-opacity="0.22"/><path d="M563.71 715.36L575.21 703.86" stroke-opacity="0.22"/><path d="M576.1 703.74h11.5v11.5h-11.5Z"/><path d="M576.1 703.74L587.59 715.24" stroke-opacity="0.22"/><path d="M576.1 715.24L587.59 703.74" stroke-opacity="0.22"/><path d="M589.43 704.49h11.5v11.5h-11.5Z"/><path d="M589.43 704.49L600.92 715.98" stroke-opacity="0.22"/><path d="M589.43 715.98L600.92 704.49" stroke-opacity="0.22"/><path d="M598.41 705.67h11.5v11.5h-11.5Z"/><path d="M598.41 705.67L609.9 717.17" stroke-opacity="0.22"/><path d="M598.41 717.17L609.9 705.67" stroke-opacity="0.22"/><path d="M606.24 705.23h11.5v11.5h-11.5Z"/><path d="M606.24 705.23L617.74 716.72" stroke-opacity="0.22"/><path d="M606.24 716.72L617.74 705.23" stroke-opacity="0.22"/><path d="M611.89 705.52h11.5v11.5h-11.5Z"/><path d="M611.89 705.52L623.39 717.02" stroke-opacity="0.22"/><path d="M611.89 717.02L623.39 705.52" stroke-opacity="0.22"/><path d="M617.16 705.81h11.5v11.5h-11.5Z"/><path d="M617.16 705.81L628.66 717.3" stroke-opacity="0.22"/><path d="M617.16 717.3L628.66 705.81" stroke-opacity="0.22"/><path d="M620.58 707.78h11.5v11.5h-11.5Z"/><path d="M620.58 707.78L632.07 719.27" stroke-opacity="0.22"/><path d="M620.58 719.27L632.07 707.78" stroke-opacity="0.22"/><path d="M623.49 706.13h11.5v11.5h-11.5Z"/><path d="M623.49 706.13L634.99 717.63" stroke-opacity="0.22"/><path d="M623.49 717.63L634.99 706.13" stroke-opacity="0.22"/><path d="M625.33 707.69h11.5v11.5h-11.5Z"/><path d="M625.33 707.69L636.82 719.19" stroke-opacity="0.22"/><path d="M625.33 719.19L636.82 707.69" stroke-opacity="0.22"/><path d="M629.49 706.67h11.5v11.5h-11.5Z"/><path d="M629.49 706.67L640.99 718.17" stroke-opacity="0.22"/><path d="M629.49 718.17L640.99 706.67" stroke-opacity="0.22"/><path d="M631.4 707.91h11.5v11.5h-11.5Z"/><path d="M631.4 707.91L642.9 719.41" stroke-opacity="0.22"/><path d="M631.4 719.41L642.9 707.91" stroke-opacity="0.22"/><path d="M634.84 706.15h11.5v11.5h-11.5Z"/><path d="M634.84 706.15L646.33 717.65" stroke-opacity="0.22"/><path d="M634.84 717.65L646.33 706.15" stroke-opacity="0.22"/><path d="M637.59 707.61h11.5v11.5h-11.5Z"/><path d="M637.59 707.61L649.09 719.11" stroke-opacity="0.22"/><path d="M637.59 719.11L649.09 707.61" stroke-opacity="0.22"/><path d="M640.36 706.46h11.5v11.5h-11.5Z"/><path d="M640.36 706.46L651.85 717.95" stroke-opacity="0.22"/><path d="M640.36 717.95L651.85 706.46" stroke-opacity="0.22"/><path d="M642.68 707.73h11.5v11.5h-11.5Z"/><path d="M642.68 707.73L654.18 719.23" stroke-opacity="0.22"/><path d="M642.68 719.23L654.18 707.73" stroke-opacity="0.22"/><path d="M646.91 706.77h11.5v11.5h-11.5Z"/><path d="M646.91 706.77L658.41 718.27" stroke-opacity="0.22"/><path d="M646.91 718.27L658.41 706.77" stroke-opacity="0.22"/><path d="M649.76 708.28h11.5v11.5h-11.5Z"/><path d="M649.76 708.28L661.26 719.77" stroke-opacity="0.22"/><path d="M649.76 719.77L661.26 708.28" stroke-opacity="0.22"/><path d="M652.48 706.69h11.5v11.5h-11.5Z"/><path d="M652.48 706.69L663.98 718.19" stroke-opacity="0.22"/><path d="M652.48 718.19L663.98 706.69" stroke-opacity="0.22"/><path d="M655.49 707.13h11.5v11.5h-11.5Z"/><path d="M655.49 707.13L666.99 718.62" stroke-opacity="0.22"/><path d="M655.49 718.62L666.99 707.13" stroke-opacity="0.22"/><path d="M658.05 705.44h11.5v11.5h-11.5Z"/><path d="M658.05 705.44L669.55 716.94" stroke-opacity="0.22"/><path d="M658.05 716.94L669.55 705.44" stroke-opacity="0.22"/><path d="M661 707.02h11.5v11.5h-11.5Z"/><path d="M661 707.02L672.5 718.52" stroke-opacity="0.22"/><path d="M661 718.52L672.5 707.02" stroke-opacity="0.22"/><path d="M663.71 705.88h11.5v11.5h-11.5Z"/><path d="M663.71 705.88L675.21 717.37" stroke-opacity="0.22"/><path d="M663.71 717.37L675.21 705.88" stroke-opacity="0.22"/><path d="M666.72 706.46h11.5v11.5h-11.5Z"/><path d="M666.72 706.46L678.22 717.96" stroke-opacity="0.22"/><path d="M666.72 717.96L678.22 706.46" stroke-opacity="0.22"/></g>
<g fill="none" stroke="#a01020" stroke-opacity="0.5" stroke-width="1.37"><path d="M694.78 888.76L706.28 900.26" stroke-opacity="0.22"/><path d="M694.78 900.26L706.28 888.76" stroke-opacity="0.22"/><path d="M692.4 894.51H708.66"/><path d="M700.53 886.38V902.64"/><path d="M611.28 853.75L622.78 865.25" stroke-opacity="0.22"/><path d="M611.28 865.25L622.78 853.75" stroke-opacity="0.22"/><path d="M608.9 859.5H625.16"/><path d="M617.03 851.37V867.63"/><path d="M584.98 826.46L596.48 837.96" stroke-opacity="0.22"/><path d="M584.98 837.96L596.48 826.46" stroke-opacity="0.22"/><path d="M582.6 832.21H598.86"/><path d="M590.73 824.08V840.34"/><path d="M546.62 803.68L558.12 815.18" stroke-opacity="0.22"/><path d="M546.62 815.18L558.12 803.68" stroke-opacity="0.22"/><path d="M544.24 809.43H560.5"/><path d="M552.37 801.3V817.56"/><path d="M517.59 786.87L529.09 798.37" stroke-opacity="0.22"/><path d="M517.59 798.37L529.09 786.87" stroke-opacity="0.22"/><path d="M515.21 792.62H531.47"/><path d="M523.34 784.49V800.75"/><path d="M490.13 772.4L501.62 783.9" stroke-opacity="0.22"/><path d="M490.13 783.9L501.62 772.4" stroke-opacity="0.22"/><path d="M487.75 778.15H504.01"/><path d="M495.88 770.02V786.28"/><path d="M458.4 760.86L469.9 772.36" stroke-opacity="0.22"/><path d="M458.4 772.36L469.9 760.86" stroke-opacity="0.22"/><path d="M456.02 766.61H472.28"/><path d="M464.15 758.48V774.74"/><path d="M426.42 751.14L437.92 762.63" stroke-opacity="0.22"/><path d="M426.42 762.63L437.92 751.14" stroke-opacity="0.22"/><path d="M424.04 756.88H440.3"/><path d="M432.17 748.75V765.01"/><path d="M408.36 743.72L419.86 755.22" stroke-opacity="0.22"/><path d="M408.36 755.22L419.86 743.72" stroke-opacity="0.22"/><path d="M405.98 749.47H422.24"/><path d="M414.11 741.34V757.6"/><path d="M391.35 736.99L402.85 748.49" stroke-opacity="0.22"/><path d="M391.35 748.49L402.85 736.99" stroke-opacity="0.22"/><path d="M388.97 742.74H405.23"/><path d="M397.1 734.61V750.87"/><path d="M375.47 732.32L386.97 743.81" stroke-opacity="0.22"/><path d="M375.47 743.81L386.97 732.32" stroke-opacity="0.22"/><path d="M373.09 738.06H389.35"/><path d="M381.22 729.94V746.19"/><path d="M364.73 727.71L376.22 739.2" stroke-opacity="0.22"/><path d="M364.73 739.2L376.22 727.71" stroke-opacity="0.22"/><path d="M362.35 733.45H378.61"/><path d="M370.48 725.32V741.58"/><path d="M355.35 723.96L366.85 735.46" stroke-opacity="0.22"/><path d="M355.35 735.46L366.85 723.96" stroke-opacity="0.22"/><path d="M352.97 729.71H369.23"/><path d="M361.1 721.58V737.84"/><path d="M347.83 721.05L359.33 732.54" stroke-opacity="0.22"/><path d="M347.83 732.54L359.33 721.05" stroke-opacity="0.22"/><path d="M345.45 726.79H361.71"/><path d="M353.58 718.66V734.92"/><path d="M342.7 718.32L354.19 729.82" stroke-opacity="0.22"/><path d="M342.7 729.82L354.19 718.32" stroke-opacity="0.22"/><path d="M340.32 724.07H356.58"/><path d="M348.45 715.94V732.2"/><path d="M338.41 716.21L349.91 727.71" stroke-opacity="0.22"/><path d="M338.41 727.71L349.91 716.21" stroke-opacity="0.22"/><path d="M336.03 721.96H352.29"/><path d="M344.16 713.83V730.09"/><path d="M335.99 713.39L347.48 724.89" stroke-opacity="0.22"/><path d="M335.99 724.89L347.48 713.39" stroke-opacity="0.22"/><path d="M333.6 719.14H349.86"/><path d="M341.73 711.01V727.27"/><path d="M338.86 711.77L350.36 723.27" stroke-opacity="0.22"/><path d="M338.86 723.27L350.36 711.77" stroke-opacity="0.22"/><path d="M336.48 717.52H352.74"/><path d="M344.61 709.39V725.65"/><path d="M343.09 710.37L354.59 721.87" stroke-opacity="0.22"/><path d="M343.09 721.87L354.59 710.37" stroke-opacity="0.22"/><path d="M340.71 716.12H356.97"/><path d="M348.84 707.99V724.25"/><path d="M347.57 708.55L359.07 720.04" stroke-opacity="0.22"/><path d="M347.57 720.04L359.07 708.55" stroke-opacity="0.22"/><path d="M345.19 714.29H361.45"/><path d="M353.32 706.16V722.42"/><path d="M354.36 706.89L365.86 718.38" stroke-opacity="0.22"/><path d="M354.36 718.38L365.86 706.89" stroke-opacity="0.22"/><path d="M351.98 712.63H368.24"/><path d="M360.11 704.5V720.76"/><path d="M366.63 705.24L378.13 716.74" stroke-opacity="0.22"/><path d="M366.63 716.74L378.13 705.24" stroke-opacity="0.22"/><path d="M364.25 710.99H380.51"/><path d="M372.38 702.86V719.12"/><path d="M378.25 704.53L389.75 716.03" stroke-opacity="0.22"/><path d="M378.25 716.03L389.75 704.53" stroke-opacity="0.22"/><path d="M375.87 710.28H392.13"/><path d="M384 702.15V718.41"/><path d="M390.97 703.43L402.46 714.93" stroke-opacity="0.22"/><path d="M390.97 714.93L402.46 703.43" stroke-opacity="0.22"/><path d="M388.58 709.18H404.84"/><path d="M396.71 701.05V717.31"/><path d="M402.77 702.04L414.27 713.54" stroke-opacity="0.22"/><path d="M402.77 713.54L414.27 702.04" stroke-opacity="0.22"/><path d="M400.39 707.79H416.65"/><path d="M408.52 699.66V715.92"/><path d="M418.27 702.37L429.77 713.86" stroke-opacity="0.22"/><path d="M418.27 713.86L429.77 702.37" stroke-opacity="0.22"/><path d="M415.89 708.12H432.15"/><path d="M424.02 699.99V716.25"/><path d="M432.24 702.29L443.74 713.79" stroke-opacity="0.22"/><path d="M432.24 713.79L443.74 702.29" stroke-opacity="0.22"/><path d="M429.86 708.04H446.12"/><path d="M437.99 699.91V716.17"/><path d="M447.77 702.78L459.26 714.28" stroke-opacity="0.22"/><path d="M447.77 714.28L459.26 702.78" stroke-opacity="0.22"/><path d="M445.39 708.53H461.65"/><path d="M453.52 700.4V716.66"/><path d="M464.5 702.07L476 713.56" stroke-opacity="0.22"/><path d="M464.5 713.56L476 702.07" stroke-opacity="0.22"/><path d="M462.12 707.82H478.38"/><path d="M470.25 699.69V715.95"/><path d="M483.19 702.79L494.69 714.28" stroke-opacity="0.22"/><path d="M483.19 714.28L494.69 702.79" stroke-opacity="0.22"/><path d="M480.81 708.53H497.07"/><path d="M488.94 700.4V716.66"/><path d="M499.57 702.22L511.06 713.72" stroke-opacity="0.22"/><path d="M499.57 713.72L511.06 702.22" stroke-opacity="0.22"/><path d="M497.19 707.97H513.45"/><path d="M505.32 699.84V716.1"/><path d="M516.74 702.8L528.24 714.29" stroke-opacity="0.22"/><path d="M516.74 714.29L528.24 702.8" stroke-opacity="0.22"/><path d="M514.36 708.55H530.62"/><path d="M522.49 700.42V716.68"/><path d="M533.31 703.14L544.81 714.64" stroke-opacity="0.22"/><path d="M533.31 714.64L544.81 703.14" stroke-opacity="0.22"/><path d="M530.93 708.89H547.19"/><path d="M539.06 700.76V717.02"/><path d="M549.3 702.88L560.8 714.37" stroke-opacity="0.22"/><path d="M549.3 714.37L560.8 702.88" stroke-opacity="0.22"/><path d="M546.92 708.62H563.18"/><path d="M555.05 700.5V716.75"/><path d="M563.59 703.59L575.08 715.09" stroke-opacity="0.22"/><path d="M563.59 715.09L575.08 703.59" stroke-opacity="0.22"/><path d="M561.2 709.34H577.46"/><path d="M569.33 701.21V717.47"/><path d="M576.61 703.82L588.11 715.31" stroke-opacity="0.22"/><path d="M576.61 715.31L588.11 703.82" stroke-opacity="0.22"/><path d="M574.23 709.57H590.49"/><path d="M582.36 701.44V717.7"/><path d="M589.35 704.74L600.85 716.24" stroke-opacity="0.22"/><path d="M589.35 716.24L600.85 704.74" stroke-opacity="0.22"/><path d="M586.97 710.49H603.23"/><path d="M595.1 702.36V718.62"/><path d="M599.13 704.53L610.63 716.03" stroke-opacity="0.22"/><path d="M599.13 716.03L610.63 704.53" stroke-opacity="0.22"/><path d="M596.75 710.28H613.01"/><path d="M604.88 702.15V718.41"/><path d="M606.37 704.76L617.87 716.25" stroke-opacity="0.22"/><path d="M606.37 716.25L617.87 704.76" stroke-opacity="0.22"/><path d="M603.99 710.51H620.25"/><path d="M612.12 702.38V718.64"/><path d="M612.62 705.87L624.12 717.37" stroke-opacity="0.22"/><path d="M612.62 717.37L624.12 705.87" stroke-opacity="0.22"/><path d="M610.24 711.62H626.5"/><path d="M618.37 703.49V719.75"/><path d="M617.25 705.78L628.75 717.28" stroke-opacity="0.22"/><path d="M617.25 717.28L628.75 705.78" stroke-opacity="0.22"/><path d="M614.87 711.53H631.13"/><path d="M623 703.4V719.66"/><path d="M620.25 707.08L631.75 718.58" stroke-opacity="0.22"/><path d="M620.25 718.58L631.75 707.08" stroke-opacity="0.22"/><path d="M617.87 712.83H634.13"/><path d="M626 704.7V720.96"/><path d="M623.45 706.17L634.95 717.66" stroke-opacity="0.22"/><path d="M623.45 717.66L634.95 706.17" stroke-opacity="0.22"/><path d="M621.07 711.92H637.33"/><path d="M629.2 703.79V720.05"/><path d="M626.1 707.5L637.6 719" stroke-opacity="0.22"/><path d="M626.1 719L637.6 707.5" stroke-opacity="0.22"/><path d="M623.72 713.25H639.98"/><path d="M631.85 705.12V721.38"/><path d="M628.78 706L640.28 717.5" stroke-opacity="0.22"/><path d="M628.78 717.5L640.28 706" stroke-opacity="0.22"/><path d="M626.4 711.75H642.66"/><path d="M634.53 703.62V719.88"/><path d="M632.06 707.73L643.56 719.23" stroke-opacity="0.22"/><path d="M632.06 719.23L643.56 707.73" stroke-opacity="0.22"/><path d="M629.68 713.48H645.94"/><path d="M637.81 705.35V721.61"/><path d="M634.5 706.42L646 717.91" stroke-opacity="0.22"/><path d="M634.5 717.91L646 706.42" stroke-opacity="0.22"/><path d="M632.12 712.16H648.38"/><path d="M640.25 704.03V720.29"/><path d="M637.39 707.97L648.89 719.46" stroke-opacity="0.22"/><path d="M637.39 719.46L648.89 707.97" stroke-opacity="0.22"/><path d="M635.01 713.71H651.27"/><path d="M643.14 705.58V721.84"/><path d="M640.85 706.94L652.35 718.44" stroke-opacity="0.22"/><path d="M640.85 718.44L652.35 706.94" stroke-opacity="0.22"/><path d="M638.47 712.69H654.73"/><path d="M646.6 704.56V720.82"/><path d="M643.35 708.16L654.85 719.66" stroke-opacity="0.22"/><path d="M643.35 719.66L654.85 708.16" stroke-opacity="0.22"/><path d="M640.97 713.91H657.23"/><path d="M649.1 705.78V722.04"/><path d="M645.81 706.11L657.31 717.61" stroke-opacity="0.22"/><path d="M645.81 717.61L657.31 706.11" stroke-opacity="0.22"/><path d="M643.43 711.86H659.69"/><path d="M651.56 703.73V719.99"/><path d="M648.65 708.19L660.15 719.69" stroke-opacity="0.22"/><path d="M648.65 719.69L660.15 708.19" stroke-opacity="0.22"/><path d="M646.27 713.94H662.53"/><path d="M654.4 705.81V722.07"/><path d="M652.17 705.58L663.66 717.07" stroke-opacity="0.22"/><path d="M652.17 717.07L663.66 705.58" stroke-opacity="0.22"/><path d="M649.78 711.32H666.04"/><path d="M657.91 703.19V719.45"/><path d="M655.54 707.53L667.04 719.03" stroke-opacity="0.22"/><path d="M655.54 719.03L667.04 707.53" stroke-opacity="0.22"/><path d="M653.16 713.28H669.42"/><path d="M661.29 705.15V721.41"/><path d="M658.33 706.24L669.83 717.74" stroke-opacity="0.22"/><path d="M658.33 717.74L669.83 706.24" stroke-opacity="0.22"/><path d="M655.95 711.99H672.21"/><path d="M664.08 703.86V720.12"/><path d="M661.39 706.92L672.89 718.42" stroke-opacity="0.22"/><path d="M661.39 718.42L672.89 706.92" stroke-opacity="0.22"/><path d="M659.01 712.67H675.27"/><path d="M667.14 704.54V720.8"/><path d="M663.55 705.86L675.05 717.35" stroke-opacity="0.22"/><path d="M663.55 717.35L675.05 705.86" stroke-opacity="0.22"/><path d="M661.17 711.6H677.43"/><path d="M669.3 703.47V719.73"/><path d="M665.87 706.18L677.36 717.67" stroke-opacity="0.22"/><path d="M665.87 717.67L677.36 706.18" stroke-opacity="0.22"/><path d="M663.49 711.92H679.74"/><path d="M671.61 703.79V720.05"/></g>
</g>
<g transform="translate(30.91 561.54) scale(0.9424 0.9411)">
<path d="M163.3 442.3V58.4H863.6" fill="none" stroke="#ababab" stroke-width="2.4"/>
<path d="M163.3 442.3H863.6V58.4" fill="none" stroke="#6e6e6e" stroke-width="2.4"/>
<path d="M194.6 442.3V447.3M322.15 442.3V447.3M449.7 442.3V447.3M577.25 442.3V447.3M704.8 442.3V447.3M832.35 442.3V447.3M157.8 75.4H163.3M157.8 162.85H163.3M157.8 250.3H163.3M157.8 337.75H163.3M157.8 425.2H163.3" stroke="#5c5c5c" stroke-width="2.4" fill="none"/>
<g class="tk" font-size="29" fill="#111"><text x="194.3" y="472.9" text-anchor="middle">20</text><text x="321.85" y="472.9" text-anchor="middle">25</text><text x="449.4" y="472.9" text-anchor="middle">30</text><text x="576.95" y="472.9" text-anchor="middle">35</text><text x="704.5" y="472.9" text-anchor="middle">40</text><text x="832.05" y="472.9" text-anchor="middle">45</text><text x="153.8" y="87" text-anchor="end">50</text><text x="153.8" y="174.45" text-anchor="end">0</text><text x="153.8" y="261.9" text-anchor="end">-50</text><text x="153.8" y="349.35" text-anchor="end">-100</text><text x="153.8" y="436.8" text-anchor="end">-150</text></g>
<g font-size="23" fill="#1a1a1a" style="stroke-width:0.5px">
<text x="162.6" y="19.3" style="stroke-width:0.5px">INR21700-50E (S/N#G734) with Faradaic Cage</text>
<text x="163.5" y="44.8" style="stroke-width:0.5px" textLength="559.2" lengthAdjust="spacing">Cell Cell w/ Weld-Spot and Tab Calibration &amp; Long Tab</text>
</g>
<g class="ax" fill="#111">
<text x="344.7" y="510" font-size="28.5">Real Impedance, Z</text>
<text x="584.2" y="515.3" font-size="19.2">Re</text>
<text x="610.6" y="510.1" font-size="33">(</text>
<text x="621.9" y="510" font-size="28.5">m</text>
<text transform="translate(645.5 510.1) scale(1.12 1)" font-size="28.1">&#937;</text>
<text x="670.4" y="510.1" font-size="33">)</text>
<g transform="translate(78.6 463.9) rotate(-90)">
<text x="-1.15" y="0" font-size="28.7">- Imaginary Impedance, -Z</text>
<text x="335.9" y="5.9" font-size="19.2">Im</text>
<text x="357.1" y="0" font-size="33">(</text>
<text x="369.4" y="0" font-size="28.5">m</text>
<text transform="translate(393.3 0) scale(1.1 1)" font-size="28.1">&#937;</text>
<text x="417.8" y="0" font-size="33">)</text>
</g>
</g>
<g filter="url(#bl2)">
<g fill="none" stroke="#0000ff" stroke-opacity="0.47" stroke-width="1.7"><circle cx="898.9" cy="132.9" r="6.2"/></g>
<g fill="none" stroke="#ff0000" stroke-opacity="0.47" stroke-width="1.7"><path d="M898.9 153.94L907.25 168.4L890.55 168.4Z"/></g>
<g fill="none" stroke="#00ee00" stroke-opacity="0.47" stroke-width="1.7"><path d="M890.13 194.26H907.67"/><path d="M898.9 185.49V203.03"/></g>
<g fill="none" stroke="#ff00ff" stroke-opacity="0.47" stroke-width="1.7"><path d="M892.7 218.74L905.1 231.14"/><path d="M892.7 231.14L905.1 218.74"/></g>
<g fill="none" stroke="#00ffff" stroke-opacity="0.47" stroke-width="1.7"><path d="M898.9 246.85L907.67 255.62L898.9 264.39L890.13 255.62Z"/></g>
<g fill="none" stroke="#a0a0a0" stroke-opacity="0.47" stroke-width="1.7"><path d="M898.9 295.94L907.25 281.48L890.55 281.48Z"/></g>
<g fill="none" stroke="#ffa500" stroke-opacity="0.47" stroke-width="1.7"><path d="M892.7 310.78h12.4v12.4h-12.4Z"/><path d="M892.7 310.78L905.1 323.18"/><path d="M892.7 323.18L905.1 310.78"/></g>
<g fill="none" stroke="#a01020" stroke-opacity="0.47" stroke-width="1.7"><path d="M892.7 341.46L905.1 353.86"/><path d="M892.7 353.86L905.1 341.46"/><path d="M890.13 347.66H907.67"/><path d="M898.9 338.89V356.43"/></g>
<g fill="none" stroke="#202020" stroke-opacity="0.47" stroke-width="1.7"><path d="M898.9 369.57L907.67 378.34L898.9 387.11L890.13 378.34Z"/><path d="M890.13 378.34H907.67"/><path d="M898.9 369.57V387.11"/></g>
</g>
<g class="tk" font-size="27.8" fill="#111"><text x="923.3" y="143.9">R1</text><text x="923.3" y="174.58">R2</text><text x="923.3" y="205.26">R3</text><text x="923.3" y="235.94">R4</text><text x="923.3" y="266.62">R6</text><text x="923.3" y="297.3">R7</text><text x="923.3" y="327.98">R8</text><text x="923.3" y="358.66">R9</text><text x="923.3" y="389.34">R10</text></g>
<path d="M883.5 393H992.7V107.9" fill="none" stroke="#9d9d9d" stroke-width="2"/>
</g>
<text x="-1.3" y="533.0" font-size="41" fill="#111" style="font-family:'Liberation Serif',serif;stroke-width:0.2px">(a)</text>
<text x="25.5" y="1064.4" font-size="41" fill="#111" style="font-family:'Liberation Serif',serif;stroke-width:0.2px">(b)</text>
</svg></body></html>
